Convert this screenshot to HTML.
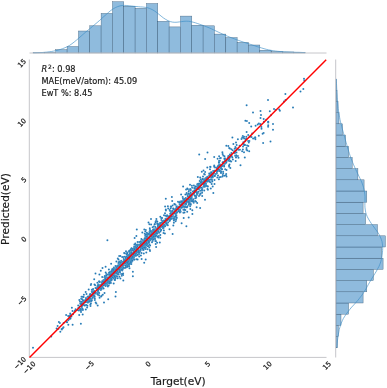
<!DOCTYPE html>
<html lang="en"><head><meta charset="utf-8"><title>Parity plot</title>
<style>html,body{margin:0;padding:0;background:#fff}body{width:387px;height:388px;overflow:hidden}</style>
</head><body>
<svg width="387" height="388" viewBox="0 0 387 388" style="display:block">
<rect width="387" height="388" fill="#fff"/>
<g fill="#8fbbdd" stroke="#1d3f5e" stroke-opacity="0.75" stroke-width="0.42">
<rect x="33.10" y="52.70" width="11.34" height="0.30"/>
<rect x="44.44" y="52.50" width="11.34" height="0.50"/>
<rect x="55.77" y="49.60" width="11.34" height="3.40"/>
<rect x="67.11" y="46.50" width="11.34" height="6.50"/>
<rect x="78.44" y="31.00" width="11.34" height="22.00"/>
<rect x="89.78" y="25.80" width="11.34" height="27.20"/>
<rect x="101.11" y="13.40" width="11.34" height="39.60"/>
<rect x="112.44" y="1.70" width="11.34" height="51.30"/>
<rect x="123.78" y="6.20" width="11.34" height="46.80"/>
<rect x="135.12" y="8.30" width="11.34" height="44.70"/>
<rect x="146.45" y="3.50" width="11.34" height="49.50"/>
<rect x="157.78" y="21.30" width="11.34" height="31.70"/>
<rect x="169.12" y="26.90" width="11.34" height="26.10"/>
<rect x="180.46" y="16.10" width="11.34" height="36.90"/>
<rect x="191.79" y="25.20" width="11.34" height="27.80"/>
<rect x="203.12" y="25.80" width="11.34" height="27.20"/>
<rect x="214.46" y="34.10" width="11.34" height="18.90"/>
<rect x="225.80" y="37.60" width="11.34" height="15.40"/>
<rect x="237.13" y="42.40" width="11.34" height="10.60"/>
<rect x="248.47" y="45.00" width="11.34" height="8.00"/>
<rect x="259.80" y="50.20" width="11.34" height="2.80"/>
<rect x="271.14" y="51.60" width="11.34" height="1.40"/>
<rect x="282.47" y="52.00" width="11.34" height="1.00"/>
<rect x="293.81" y="52.30" width="11.34" height="0.70"/>
<rect x="336.00" y="336.60" width="1.30" height="11.20"/>
<rect x="336.00" y="325.40" width="2.30" height="11.20"/>
<rect x="336.00" y="314.20" width="5.00" height="11.20"/>
<rect x="336.00" y="303.00" width="12.60" height="11.20"/>
<rect x="336.00" y="291.80" width="27.10" height="11.20"/>
<rect x="336.00" y="280.60" width="30.80" height="11.20"/>
<rect x="336.00" y="269.40" width="37.40" height="11.20"/>
<rect x="336.00" y="258.20" width="47.10" height="11.20"/>
<rect x="336.00" y="247.00" width="45.60" height="11.20"/>
<rect x="336.00" y="235.80" width="49.40" height="11.20"/>
<rect x="336.00" y="224.60" width="41.50" height="11.20"/>
<rect x="336.00" y="213.40" width="29.60" height="11.20"/>
<rect x="336.00" y="202.20" width="27.10" height="11.20"/>
<rect x="336.00" y="191.00" width="30.80" height="11.20"/>
<rect x="336.00" y="179.80" width="28.10" height="11.20"/>
<rect x="336.00" y="168.60" width="21.90" height="11.20"/>
<rect x="336.00" y="157.40" width="16.20" height="11.20"/>
<rect x="336.00" y="146.20" width="12.60" height="11.20"/>
<rect x="336.00" y="135.00" width="9.60" height="11.20"/>
<rect x="336.00" y="123.80" width="6.50" height="11.20"/>
<rect x="336.00" y="112.60" width="3.00" height="11.20"/>
<rect x="336.00" y="101.40" width="2.00" height="11.20"/>
<rect x="336.00" y="90.20" width="1.00" height="11.20"/>
<rect x="336.00" y="79.00" width="0.50" height="11.20"/>
</g>
<path d="M33.1,52.8 L35.4,52.8 L37.7,52.7 L40.0,52.6 L42.2,52.5 L44.5,52.3 L46.8,52.1 L49.1,51.8 L51.4,51.5 L53.7,51.1 L56.0,50.6 L58.2,50.1 L60.5,49.4 L62.8,48.6 L65.1,47.7 L67.4,46.6 L69.7,45.3 L72.0,43.7 L74.2,42.0 L76.5,40.1 L78.8,38.1 L81.1,36.1 L83.4,34.1 L85.7,32.1 L88.0,30.2 L90.3,28.3 L92.5,26.4 L94.8,24.5 L97.1,22.6 L99.4,20.6 L101.7,18.5 L104.0,16.4 L106.3,14.4 L108.5,12.4 L110.8,10.5 L113.1,8.9 L115.4,7.6 L117.7,6.6 L120.0,5.9 L122.3,5.5 L124.5,5.4 L126.8,5.5 L129.1,5.8 L131.4,6.0 L133.7,6.3 L136.0,6.5 L138.3,6.7 L140.5,6.9 L142.8,7.0 L145.1,7.3 L147.4,7.7 L149.7,8.5 L152.0,9.5 L154.3,10.8 L156.5,12.4 L158.8,14.2 L161.1,16.1 L163.4,17.9 L165.7,19.4 L168.0,20.7 L170.3,21.6 L172.5,22.1 L174.8,22.3 L177.1,22.2 L179.4,21.9 L181.7,21.6 L184.0,21.3 L186.3,21.2 L188.6,21.3 L190.8,21.6 L193.1,22.2 L195.4,22.8 L197.7,23.6 L200.0,24.4 L202.3,25.2 L204.6,26.0 L206.8,26.9 L209.1,27.8 L211.4,28.8 L213.7,29.9 L216.0,31.0 L218.3,32.1 L220.6,33.2 L222.8,34.2 L225.1,35.2 L227.4,36.2 L229.7,37.1 L232.0,38.0 L234.3,38.8 L236.6,39.7 L238.8,40.5 L241.1,41.3 L243.4,42.1 L245.7,42.8 L248.0,43.6 L250.3,44.3 L252.6,45.1 L254.8,45.8 L257.1,46.6 L259.4,47.3 L261.7,48.0 L264.0,48.7 L266.3,49.3 L268.6,49.9 L270.8,50.3 L273.1,50.7 L275.4,51.0 L277.7,51.3 L280.0,51.5 L282.3,51.6 L284.6,51.8 L286.9,51.9 L289.1,52.0 L291.4,52.1 L293.7,52.2 L296.0,52.3 L298.3,52.3 L300.6,52.4 L302.9,52.5 L305.1,52.6" fill="none" stroke="#3a8cc6" stroke-width="0.7" stroke-opacity="0.9"/>
<path d="M336.3,79.0 L336.4,81.3 L336.5,83.5 L336.6,85.8 L336.7,88.0 L336.8,90.3 L336.9,92.6 L337.1,94.8 L337.2,97.1 L337.4,99.3 L337.6,101.6 L337.8,103.8 L338.0,106.1 L338.2,108.4 L338.5,110.6 L338.8,112.9 L339.2,115.1 L339.6,117.4 L340.0,119.7 L340.5,121.9 L341.1,124.2 L341.7,126.4 L342.3,128.7 L342.9,131.0 L343.5,133.2 L344.1,135.5 L344.8,137.7 L345.4,140.0 L346.0,142.2 L346.7,144.5 L347.3,146.8 L348.0,149.0 L348.7,151.3 L349.4,153.5 L350.1,155.8 L350.9,158.1 L351.8,160.3 L352.7,162.6 L353.6,164.8 L354.6,167.1 L355.7,169.4 L356.7,171.6 L357.8,173.9 L358.9,176.1 L360.0,178.4 L361.0,180.6 L362.0,182.9 L362.8,185.2 L363.5,187.4 L364.1,189.7 L364.5,191.9 L364.8,194.2 L365.0,196.5 L365.0,198.7 L365.0,201.0 L364.9,203.2 L364.9,205.5 L365.0,207.8 L365.3,210.0 L365.7,212.3 L366.4,214.5 L367.3,216.8 L368.5,219.0 L369.9,221.3 L371.4,223.6 L373.0,225.8 L374.7,228.1 L376.3,230.3 L377.9,232.6 L379.3,234.9 L380.4,237.1 L381.3,239.4 L382.0,241.6 L382.4,243.9 L382.6,246.2 L382.7,248.4 L382.6,250.7 L382.4,252.9 L382.1,255.2 L381.8,257.4 L381.3,259.7 L380.7,262.0 L379.9,264.2 L378.9,266.5 L377.7,268.7 L376.5,271.0 L375.1,273.3 L373.7,275.5 L372.3,277.8 L371.0,280.0 L369.6,282.3 L368.3,284.6 L367.1,286.8 L365.8,289.1 L364.4,291.3 L363.0,293.6 L361.4,295.8 L359.6,298.1 L357.8,300.4 L355.8,302.6 L353.8,304.9 L351.7,307.1 L349.8,309.4 L348.0,311.7 L346.3,313.9 L344.8,316.2 L343.4,318.4 L342.3,320.7 L341.3,323.0 L340.5,325.2 L339.8,327.5 L339.2,329.7 L338.8,332.0 L338.4,334.2 L338.0,336.5 L337.7,338.8 L337.4,341.0 L337.2,343.3 L337.0,345.5 L336.8,347.8" fill="none" stroke="#3a8cc6" stroke-width="0.7" stroke-opacity="0.9"/>
<g stroke="#c6c6ca" stroke-width="1" fill="none">
<path d="M29.3,59.5 V357.4 H326.5"/>
<path d="M29.5,53.0 H326.5"/>
<path d="M335.7,59.5 V357.5"/>
</g>
<g fill="#1f77b4" stroke="#fff" stroke-width="0.1">
<circle cx="162.1" cy="223.1" r="1.0"/>
<circle cx="223.0" cy="165.6" r="1.0"/>
<circle cx="199.0" cy="196.0" r="1.0"/>
<circle cx="116.2" cy="267.6" r="1.0"/>
<circle cx="118.5" cy="272.6" r="1.0"/>
<circle cx="210.0" cy="169.3" r="1.0"/>
<circle cx="61.9" cy="329.6" r="1.0"/>
<circle cx="193.0" cy="200.4" r="1.0"/>
<circle cx="203.0" cy="179.3" r="1.0"/>
<circle cx="146.1" cy="239.6" r="1.0"/>
<circle cx="124.2" cy="261.4" r="1.0"/>
<circle cx="123.1" cy="267.6" r="1.0"/>
<circle cx="118.5" cy="263.3" r="1.0"/>
<circle cx="136.5" cy="259.2" r="1.0"/>
<circle cx="155.8" cy="232.7" r="1.0"/>
<circle cx="151.4" cy="238.1" r="1.0"/>
<circle cx="279.2" cy="109.5" r="1.0"/>
<circle cx="201.2" cy="182.8" r="1.0"/>
<circle cx="163.9" cy="225.1" r="1.0"/>
<circle cx="260.4" cy="124.2" r="1.0"/>
<circle cx="121.8" cy="263.1" r="1.0"/>
<circle cx="109.0" cy="283.2" r="1.0"/>
<circle cx="168.1" cy="222.6" r="1.0"/>
<circle cx="81.5" cy="306.6" r="1.0"/>
<circle cx="87.3" cy="301.4" r="1.0"/>
<circle cx="156.3" cy="228.8" r="1.0"/>
<circle cx="139.1" cy="253.9" r="1.0"/>
<circle cx="219.1" cy="156.3" r="1.0"/>
<circle cx="161.6" cy="223.1" r="1.0"/>
<circle cx="146.5" cy="242.7" r="1.0"/>
<circle cx="149.1" cy="242.3" r="1.0"/>
<circle cx="116.2" cy="270.8" r="1.0"/>
<circle cx="68.3" cy="320.2" r="1.0"/>
<circle cx="109.8" cy="273.9" r="1.0"/>
<circle cx="174.0" cy="213.3" r="1.0"/>
<circle cx="118.9" cy="263.8" r="1.0"/>
<circle cx="127.0" cy="262.6" r="1.0"/>
<circle cx="59.9" cy="323.0" r="1.0"/>
<circle cx="211.7" cy="183.9" r="1.0"/>
<circle cx="106.4" cy="283.6" r="1.0"/>
<circle cx="119.2" cy="266.3" r="1.0"/>
<circle cx="207.9" cy="189.7" r="1.0"/>
<circle cx="152.8" cy="231.9" r="1.0"/>
<circle cx="213.3" cy="192.9" r="1.0"/>
<circle cx="160.8" cy="225.9" r="1.0"/>
<circle cx="186.3" cy="203.8" r="1.0"/>
<circle cx="97.6" cy="292.0" r="1.0"/>
<circle cx="147.4" cy="239.0" r="1.0"/>
<circle cx="157.4" cy="230.3" r="1.0"/>
<circle cx="208.8" cy="179.6" r="1.0"/>
<circle cx="126.6" cy="253.8" r="1.0"/>
<circle cx="166.4" cy="220.6" r="1.0"/>
<circle cx="87.7" cy="302.2" r="1.0"/>
<circle cx="130.9" cy="250.5" r="1.0"/>
<circle cx="134.2" cy="247.9" r="1.0"/>
<circle cx="102.1" cy="281.2" r="1.0"/>
<circle cx="197.8" cy="177.1" r="1.0"/>
<circle cx="132.2" cy="260.4" r="1.0"/>
<circle cx="258.9" cy="123.6" r="1.0"/>
<circle cx="165.1" cy="206.5" r="1.0"/>
<circle cx="164.6" cy="222.4" r="1.0"/>
<circle cx="162.2" cy="223.3" r="1.0"/>
<circle cx="175.6" cy="221.2" r="1.0"/>
<circle cx="107.4" cy="281.3" r="1.0"/>
<circle cx="145.4" cy="236.0" r="1.0"/>
<circle cx="121.8" cy="275.7" r="1.0"/>
<circle cx="143.5" cy="245.2" r="1.0"/>
<circle cx="100.2" cy="285.1" r="1.0"/>
<circle cx="237.9" cy="139.3" r="1.0"/>
<circle cx="121.2" cy="260.8" r="1.0"/>
<circle cx="174.4" cy="218.4" r="1.0"/>
<circle cx="121.0" cy="265.8" r="1.0"/>
<circle cx="206.5" cy="177.4" r="1.0"/>
<circle cx="174.4" cy="216.9" r="1.0"/>
<circle cx="110.5" cy="276.7" r="1.0"/>
<circle cx="203.5" cy="170.4" r="1.0"/>
<circle cx="229.1" cy="148.0" r="1.0"/>
<circle cx="220.0" cy="158.3" r="1.0"/>
<circle cx="156.1" cy="246.9" r="1.0"/>
<circle cx="104.2" cy="283.2" r="1.0"/>
<circle cx="110.4" cy="274.3" r="1.0"/>
<circle cx="228.6" cy="160.8" r="1.0"/>
<circle cx="149.9" cy="237.3" r="1.0"/>
<circle cx="107.4" cy="240.2" r="1.0"/>
<circle cx="221.9" cy="166.0" r="1.0"/>
<circle cx="167.8" cy="225.2" r="1.0"/>
<circle cx="156.4" cy="229.1" r="1.0"/>
<circle cx="126.6" cy="262.3" r="1.0"/>
<circle cx="143.6" cy="245.3" r="1.0"/>
<circle cx="119.6" cy="268.5" r="1.0"/>
<circle cx="82.8" cy="301.9" r="1.0"/>
<circle cx="211.9" cy="174.2" r="1.0"/>
<circle cx="145.3" cy="245.5" r="1.0"/>
<circle cx="151.9" cy="235.9" r="1.0"/>
<circle cx="134.2" cy="251.4" r="1.0"/>
<circle cx="181.9" cy="206.7" r="1.0"/>
<circle cx="80.3" cy="303.3" r="1.0"/>
<circle cx="132.4" cy="249.9" r="1.0"/>
<circle cx="81.9" cy="308.0" r="1.0"/>
<circle cx="107.7" cy="277.4" r="1.0"/>
<circle cx="242.8" cy="136.1" r="1.0"/>
<circle cx="170.8" cy="206.6" r="1.0"/>
<circle cx="143.7" cy="243.7" r="1.0"/>
<circle cx="154.9" cy="229.3" r="1.0"/>
<circle cx="204.8" cy="184.7" r="1.0"/>
<circle cx="126.7" cy="264.7" r="1.0"/>
<circle cx="166.9" cy="218.4" r="1.0"/>
<circle cx="179.5" cy="206.7" r="1.0"/>
<circle cx="133.6" cy="251.8" r="1.0"/>
<circle cx="152.1" cy="234.9" r="1.0"/>
<circle cx="184.6" cy="201.3" r="1.0"/>
<circle cx="219.5" cy="169.4" r="1.0"/>
<circle cx="103.1" cy="281.2" r="1.0"/>
<circle cx="231.4" cy="149.3" r="1.0"/>
<circle cx="58.4" cy="328.8" r="1.0"/>
<circle cx="182.3" cy="202.0" r="1.0"/>
<circle cx="196.1" cy="197.1" r="1.0"/>
<circle cx="101.8" cy="287.5" r="1.0"/>
<circle cx="140.4" cy="242.0" r="1.0"/>
<circle cx="199.7" cy="181.0" r="1.0"/>
<circle cx="74.5" cy="311.8" r="1.0"/>
<circle cx="168.8" cy="218.8" r="1.0"/>
<circle cx="201.8" cy="189.7" r="1.0"/>
<circle cx="153.6" cy="231.2" r="1.0"/>
<circle cx="190.6" cy="193.7" r="1.0"/>
<circle cx="117.5" cy="274.0" r="1.0"/>
<circle cx="110.2" cy="275.1" r="1.0"/>
<circle cx="127.0" cy="258.5" r="1.0"/>
<circle cx="107.1" cy="278.6" r="1.0"/>
<circle cx="134.9" cy="255.6" r="1.0"/>
<circle cx="232.6" cy="150.3" r="1.0"/>
<circle cx="152.2" cy="239.5" r="1.0"/>
<circle cx="132.7" cy="249.7" r="1.0"/>
<circle cx="116.0" cy="270.6" r="1.0"/>
<circle cx="246.5" cy="149.7" r="1.0"/>
<circle cx="135.3" cy="243.6" r="1.0"/>
<circle cx="251.2" cy="126.5" r="1.0"/>
<circle cx="148.5" cy="240.6" r="1.0"/>
<circle cx="149.4" cy="224.3" r="1.0"/>
<circle cx="225.2" cy="169.3" r="1.0"/>
<circle cx="180.7" cy="205.2" r="1.0"/>
<circle cx="149.8" cy="230.0" r="1.0"/>
<circle cx="141.6" cy="259.0" r="1.0"/>
<circle cx="211.1" cy="172.2" r="1.0"/>
<circle cx="143.9" cy="243.3" r="1.0"/>
<circle cx="230.1" cy="157.0" r="1.0"/>
<circle cx="92.3" cy="297.9" r="1.0"/>
<circle cx="144.8" cy="241.2" r="1.0"/>
<circle cx="147.8" cy="242.7" r="1.0"/>
<circle cx="226.5" cy="176.4" r="1.0"/>
<circle cx="115.1" cy="273.3" r="1.0"/>
<circle cx="197.4" cy="194.0" r="1.0"/>
<circle cx="179.8" cy="202.0" r="1.0"/>
<circle cx="188.7" cy="217.6" r="1.0"/>
<circle cx="164.2" cy="225.2" r="1.0"/>
<circle cx="243.0" cy="146.5" r="1.0"/>
<circle cx="131.6" cy="255.3" r="1.0"/>
<circle cx="142.2" cy="240.0" r="1.0"/>
<circle cx="116.3" cy="268.2" r="1.0"/>
<circle cx="79.5" cy="309.2" r="1.0"/>
<circle cx="114.7" cy="273.4" r="1.0"/>
<circle cx="223.3" cy="163.4" r="1.0"/>
<circle cx="210.3" cy="173.6" r="1.0"/>
<circle cx="98.8" cy="286.1" r="1.0"/>
<circle cx="158.3" cy="230.4" r="1.0"/>
<circle cx="145.3" cy="248.1" r="1.0"/>
<circle cx="162.1" cy="218.0" r="1.0"/>
<circle cx="179.6" cy="204.2" r="1.0"/>
<circle cx="130.5" cy="255.7" r="1.0"/>
<circle cx="243.3" cy="142.3" r="1.0"/>
<circle cx="144.4" cy="245.8" r="1.0"/>
<circle cx="164.9" cy="225.3" r="1.0"/>
<circle cx="165.4" cy="222.6" r="1.0"/>
<circle cx="102.9" cy="285.4" r="1.0"/>
<circle cx="85.3" cy="305.3" r="1.0"/>
<circle cx="139.2" cy="256.6" r="1.0"/>
<circle cx="181.3" cy="206.7" r="1.0"/>
<circle cx="193.3" cy="191.7" r="1.0"/>
<circle cx="185.9" cy="202.8" r="1.0"/>
<circle cx="92.8" cy="294.1" r="1.0"/>
<circle cx="223.1" cy="171.8" r="1.0"/>
<circle cx="193.2" cy="194.5" r="1.0"/>
<circle cx="203.3" cy="184.2" r="1.0"/>
<circle cx="157.8" cy="236.7" r="1.0"/>
<circle cx="218.0" cy="175.5" r="1.0"/>
<circle cx="84.2" cy="300.4" r="1.0"/>
<circle cx="80.8" cy="310.8" r="1.0"/>
<circle cx="69.5" cy="316.1" r="1.0"/>
<circle cx="117.0" cy="272.5" r="1.0"/>
<circle cx="121.4" cy="263.7" r="1.0"/>
<circle cx="101.6" cy="286.5" r="1.0"/>
<circle cx="155.9" cy="235.8" r="1.0"/>
<circle cx="89.7" cy="297.6" r="1.0"/>
<circle cx="164.1" cy="224.9" r="1.0"/>
<circle cx="105.2" cy="279.8" r="1.0"/>
<circle cx="171.8" cy="216.7" r="1.0"/>
<circle cx="69.2" cy="319.0" r="1.0"/>
<circle cx="127.4" cy="254.5" r="1.0"/>
<circle cx="235.4" cy="146.9" r="1.0"/>
<circle cx="146.5" cy="238.1" r="1.0"/>
<circle cx="200.7" cy="179.2" r="1.0"/>
<circle cx="176.7" cy="207.4" r="1.0"/>
<circle cx="158.0" cy="224.3" r="1.0"/>
<circle cx="101.9" cy="282.5" r="1.0"/>
<circle cx="154.8" cy="230.9" r="1.0"/>
<circle cx="86.1" cy="300.7" r="1.0"/>
<circle cx="195.3" cy="189.5" r="1.0"/>
<circle cx="246.9" cy="121.0" r="1.0"/>
<circle cx="205.5" cy="181.4" r="1.0"/>
<circle cx="83.3" cy="305.1" r="1.0"/>
<circle cx="125.1" cy="263.0" r="1.0"/>
<circle cx="131.1" cy="256.0" r="1.0"/>
<circle cx="90.8" cy="294.8" r="1.0"/>
<circle cx="159.8" cy="242.4" r="1.0"/>
<circle cx="200.5" cy="193.6" r="1.0"/>
<circle cx="129.5" cy="256.6" r="1.0"/>
<circle cx="210.6" cy="182.3" r="1.0"/>
<circle cx="200.1" cy="185.1" r="1.0"/>
<circle cx="108.0" cy="278.6" r="1.0"/>
<circle cx="182.7" cy="196.9" r="1.0"/>
<circle cx="222.4" cy="152.3" r="1.0"/>
<circle cx="102.4" cy="283.5" r="1.0"/>
<circle cx="149.5" cy="240.9" r="1.0"/>
<circle cx="162.9" cy="227.9" r="1.0"/>
<circle cx="159.1" cy="232.8" r="1.0"/>
<circle cx="91.0" cy="295.9" r="1.0"/>
<circle cx="176.5" cy="217.3" r="1.0"/>
<circle cx="166.2" cy="220.6" r="1.0"/>
<circle cx="196.0" cy="191.1" r="1.0"/>
<circle cx="196.2" cy="188.5" r="1.0"/>
<circle cx="126.1" cy="261.9" r="1.0"/>
<circle cx="186.4" cy="200.3" r="1.0"/>
<circle cx="209.7" cy="180.0" r="1.0"/>
<circle cx="225.0" cy="163.8" r="1.0"/>
<circle cx="101.6" cy="295.7" r="1.0"/>
<circle cx="88.7" cy="296.7" r="1.0"/>
<circle cx="180.3" cy="201.5" r="1.0"/>
<circle cx="116.4" cy="269.7" r="1.0"/>
<circle cx="154.7" cy="230.1" r="1.0"/>
<circle cx="235.1" cy="155.8" r="1.0"/>
<circle cx="131.2" cy="251.4" r="1.0"/>
<circle cx="115.7" cy="275.8" r="1.0"/>
<circle cx="142.2" cy="242.3" r="1.0"/>
<circle cx="179.1" cy="207.6" r="1.0"/>
<circle cx="91.0" cy="301.5" r="1.0"/>
<circle cx="129.2" cy="251.7" r="1.0"/>
<circle cx="101.4" cy="285.5" r="1.0"/>
<circle cx="178.7" cy="207.7" r="1.0"/>
<circle cx="211.9" cy="173.4" r="1.0"/>
<circle cx="124.3" cy="262.8" r="1.0"/>
<circle cx="132.2" cy="255.9" r="1.0"/>
<circle cx="154.3" cy="229.9" r="1.0"/>
<circle cx="113.9" cy="278.3" r="1.0"/>
<circle cx="118.4" cy="268.4" r="1.0"/>
<circle cx="131.6" cy="257.5" r="1.0"/>
<circle cx="138.9" cy="252.7" r="1.0"/>
<circle cx="95.5" cy="293.5" r="1.0"/>
<circle cx="191.5" cy="198.8" r="1.0"/>
<circle cx="153.7" cy="233.1" r="1.0"/>
<circle cx="118.1" cy="265.2" r="1.0"/>
<circle cx="90.5" cy="306.1" r="1.0"/>
<circle cx="181.8" cy="204.3" r="1.0"/>
<circle cx="110.8" cy="283.0" r="1.0"/>
<circle cx="109.5" cy="283.6" r="1.0"/>
<circle cx="110.6" cy="279.4" r="1.0"/>
<circle cx="96.3" cy="303.6" r="1.0"/>
<circle cx="221.0" cy="173.1" r="1.0"/>
<circle cx="118.5" cy="268.1" r="1.0"/>
<circle cx="132.1" cy="254.6" r="1.0"/>
<circle cx="206.9" cy="180.9" r="1.0"/>
<circle cx="163.4" cy="228.5" r="1.0"/>
<circle cx="106.4" cy="274.1" r="1.0"/>
<circle cx="142.6" cy="244.9" r="1.0"/>
<circle cx="216.9" cy="173.3" r="1.0"/>
<circle cx="124.1" cy="253.0" r="1.0"/>
<circle cx="181.5" cy="201.6" r="1.0"/>
<circle cx="91.8" cy="299.9" r="1.0"/>
<circle cx="190.2" cy="188.9" r="1.0"/>
<circle cx="199.9" cy="186.5" r="1.0"/>
<circle cx="200.3" cy="184.4" r="1.0"/>
<circle cx="174.2" cy="211.4" r="1.0"/>
<circle cx="124.9" cy="268.1" r="1.0"/>
<circle cx="83.7" cy="300.4" r="1.0"/>
<circle cx="156.2" cy="230.3" r="1.0"/>
<circle cx="186.2" cy="204.2" r="1.0"/>
<circle cx="108.3" cy="281.0" r="1.0"/>
<circle cx="116.7" cy="267.4" r="1.0"/>
<circle cx="148.2" cy="240.0" r="1.0"/>
<circle cx="187.6" cy="199.3" r="1.0"/>
<circle cx="220.0" cy="164.5" r="1.0"/>
<circle cx="105.0" cy="281.2" r="1.0"/>
<circle cx="104.0" cy="302.4" r="1.0"/>
<circle cx="199.7" cy="185.1" r="1.0"/>
<circle cx="161.4" cy="219.9" r="1.0"/>
<circle cx="187.0" cy="194.3" r="1.0"/>
<circle cx="285.4" cy="94.1" r="1.0"/>
<circle cx="234.3" cy="151.2" r="1.0"/>
<circle cx="207.4" cy="176.8" r="1.0"/>
<circle cx="197.2" cy="184.2" r="1.0"/>
<circle cx="145.6" cy="242.3" r="1.0"/>
<circle cx="165.9" cy="210.4" r="1.0"/>
<circle cx="109.5" cy="272.3" r="1.0"/>
<circle cx="184.3" cy="200.1" r="1.0"/>
<circle cx="190.0" cy="184.8" r="1.0"/>
<circle cx="184.8" cy="199.3" r="1.0"/>
<circle cx="146.3" cy="252.4" r="1.0"/>
<circle cx="133.9" cy="249.5" r="1.0"/>
<circle cx="142.6" cy="243.4" r="1.0"/>
<circle cx="87.9" cy="296.8" r="1.0"/>
<circle cx="209.3" cy="177.1" r="1.0"/>
<circle cx="154.8" cy="224.0" r="1.0"/>
<circle cx="125.2" cy="260.1" r="1.0"/>
<circle cx="157.7" cy="231.6" r="1.0"/>
<circle cx="189.5" cy="194.3" r="1.0"/>
<circle cx="125.4" cy="259.4" r="1.0"/>
<circle cx="205.9" cy="186.2" r="1.0"/>
<circle cx="221.0" cy="167.7" r="1.0"/>
<circle cx="132.4" cy="255.8" r="1.0"/>
<circle cx="102.8" cy="287.7" r="1.0"/>
<circle cx="191.3" cy="194.4" r="1.0"/>
<circle cx="263.7" cy="118.9" r="1.0"/>
<circle cx="112.4" cy="268.9" r="1.0"/>
<circle cx="189.0" cy="190.1" r="1.0"/>
<circle cx="197.3" cy="186.1" r="1.0"/>
<circle cx="229.9" cy="148.5" r="1.0"/>
<circle cx="102.2" cy="277.1" r="1.0"/>
<circle cx="90.8" cy="298.4" r="1.0"/>
<circle cx="255.6" cy="125.7" r="1.0"/>
<circle cx="98.5" cy="284.4" r="1.0"/>
<circle cx="111.4" cy="276.0" r="1.0"/>
<circle cx="150.6" cy="239.2" r="1.0"/>
<circle cx="145.7" cy="244.3" r="1.0"/>
<circle cx="183.8" cy="204.1" r="1.0"/>
<circle cx="111.8" cy="279.0" r="1.0"/>
<circle cx="224.9" cy="160.1" r="1.0"/>
<circle cx="114.2" cy="272.9" r="1.0"/>
<circle cx="190.2" cy="196.1" r="1.0"/>
<circle cx="97.8" cy="287.3" r="1.0"/>
<circle cx="143.1" cy="241.7" r="1.0"/>
<circle cx="88.0" cy="302.4" r="1.0"/>
<circle cx="129.9" cy="257.8" r="1.0"/>
<circle cx="129.5" cy="262.4" r="1.0"/>
<circle cx="184.6" cy="209.9" r="1.0"/>
<circle cx="144.9" cy="248.2" r="1.0"/>
<circle cx="88.7" cy="289.6" r="1.0"/>
<circle cx="273.0" cy="129.7" r="1.0"/>
<circle cx="223.2" cy="162.0" r="1.0"/>
<circle cx="217.6" cy="158.7" r="1.0"/>
<circle cx="114.5" cy="275.2" r="1.0"/>
<circle cx="126.0" cy="251.3" r="1.0"/>
<circle cx="118.9" cy="262.4" r="1.0"/>
<circle cx="104.3" cy="279.9" r="1.0"/>
<circle cx="81.2" cy="298.8" r="1.0"/>
<circle cx="147.6" cy="235.7" r="1.0"/>
<circle cx="104.8" cy="284.4" r="1.0"/>
<circle cx="109.9" cy="275.5" r="1.0"/>
<circle cx="203.4" cy="186.7" r="1.0"/>
<circle cx="140.6" cy="250.5" r="1.0"/>
<circle cx="107.9" cy="286.5" r="1.0"/>
<circle cx="169.7" cy="209.9" r="1.0"/>
<circle cx="115.8" cy="272.9" r="1.0"/>
<circle cx="156.7" cy="230.3" r="1.0"/>
<circle cx="123.7" cy="265.3" r="1.0"/>
<circle cx="156.1" cy="230.5" r="1.0"/>
<circle cx="159.7" cy="228.0" r="1.0"/>
<circle cx="155.1" cy="234.3" r="1.0"/>
<circle cx="140.2" cy="250.5" r="1.0"/>
<circle cx="193.7" cy="202.7" r="1.0"/>
<circle cx="208.6" cy="181.1" r="1.0"/>
<circle cx="111.6" cy="274.5" r="1.0"/>
<circle cx="111.1" cy="263.8" r="1.0"/>
<circle cx="94.2" cy="279.3" r="1.0"/>
<circle cx="249.2" cy="123.1" r="1.0"/>
<circle cx="236.0" cy="142.5" r="1.0"/>
<circle cx="123.6" cy="263.6" r="1.0"/>
<circle cx="242.9" cy="149.4" r="1.0"/>
<circle cx="115.0" cy="271.9" r="1.0"/>
<circle cx="152.6" cy="241.1" r="1.0"/>
<circle cx="154.3" cy="234.4" r="1.0"/>
<circle cx="219.9" cy="160.8" r="1.0"/>
<circle cx="82.4" cy="303.5" r="1.0"/>
<circle cx="126.6" cy="253.6" r="1.0"/>
<circle cx="161.1" cy="227.0" r="1.0"/>
<circle cx="90.3" cy="304.4" r="1.0"/>
<circle cx="115.3" cy="273.1" r="1.0"/>
<circle cx="145.9" cy="242.3" r="1.0"/>
<circle cx="203.2" cy="179.4" r="1.0"/>
<circle cx="188.7" cy="191.5" r="1.0"/>
<circle cx="212.1" cy="180.1" r="1.0"/>
<circle cx="185.0" cy="203.1" r="1.0"/>
<circle cx="187.2" cy="200.2" r="1.0"/>
<circle cx="205.6" cy="183.6" r="1.0"/>
<circle cx="176.7" cy="218.0" r="1.0"/>
<circle cx="188.5" cy="198.1" r="1.0"/>
<circle cx="132.1" cy="253.7" r="1.0"/>
<circle cx="106.7" cy="279.1" r="1.0"/>
<circle cx="191.5" cy="199.6" r="1.0"/>
<circle cx="110.9" cy="276.3" r="1.0"/>
<circle cx="220.9" cy="172.6" r="1.0"/>
<circle cx="165.5" cy="215.7" r="1.0"/>
<circle cx="126.9" cy="263.2" r="1.0"/>
<circle cx="236.5" cy="152.4" r="1.0"/>
<circle cx="108.4" cy="281.0" r="1.0"/>
<circle cx="156.6" cy="232.2" r="1.0"/>
<circle cx="93.0" cy="297.0" r="1.0"/>
<circle cx="248.3" cy="146.0" r="1.0"/>
<circle cx="147.6" cy="233.8" r="1.0"/>
<circle cx="197.8" cy="188.2" r="1.0"/>
<circle cx="113.7" cy="271.6" r="1.0"/>
<circle cx="193.9" cy="185.6" r="1.0"/>
<circle cx="189.1" cy="198.1" r="1.0"/>
<circle cx="158.5" cy="224.9" r="1.0"/>
<circle cx="230.1" cy="156.7" r="1.0"/>
<circle cx="137.3" cy="245.9" r="1.0"/>
<circle cx="144.8" cy="240.6" r="1.0"/>
<circle cx="170.1" cy="215.8" r="1.0"/>
<circle cx="206.9" cy="181.6" r="1.0"/>
<circle cx="133.5" cy="252.5" r="1.0"/>
<circle cx="176.9" cy="206.2" r="1.0"/>
<circle cx="120.4" cy="278.6" r="1.0"/>
<circle cx="157.7" cy="229.6" r="1.0"/>
<circle cx="180.7" cy="211.7" r="1.0"/>
<circle cx="86.0" cy="301.8" r="1.0"/>
<circle cx="188.9" cy="204.8" r="1.0"/>
<circle cx="75.6" cy="309.2" r="1.0"/>
<circle cx="245.2" cy="145.1" r="1.0"/>
<circle cx="135.9" cy="252.2" r="1.0"/>
<circle cx="136.1" cy="252.4" r="1.0"/>
<circle cx="189.2" cy="203.4" r="1.0"/>
<circle cx="153.4" cy="236.1" r="1.0"/>
<circle cx="183.4" cy="209.7" r="1.0"/>
<circle cx="89.9" cy="299.8" r="1.0"/>
<circle cx="152.5" cy="235.4" r="1.0"/>
<circle cx="147.5" cy="239.4" r="1.0"/>
<circle cx="234.3" cy="152.4" r="1.0"/>
<circle cx="82.3" cy="305.3" r="1.0"/>
<circle cx="144.3" cy="229.6" r="1.0"/>
<circle cx="158.9" cy="225.3" r="1.0"/>
<circle cx="152.0" cy="242.2" r="1.0"/>
<circle cx="90.9" cy="303.4" r="1.0"/>
<circle cx="166.6" cy="224.2" r="1.0"/>
<circle cx="118.8" cy="268.6" r="1.0"/>
<circle cx="103.8" cy="284.9" r="1.0"/>
<circle cx="214.0" cy="176.0" r="1.0"/>
<circle cx="108.8" cy="273.1" r="1.0"/>
<circle cx="138.9" cy="247.8" r="1.0"/>
<circle cx="190.2" cy="198.9" r="1.0"/>
<circle cx="184.8" cy="203.7" r="1.0"/>
<circle cx="157.1" cy="231.0" r="1.0"/>
<circle cx="195.2" cy="186.8" r="1.0"/>
<circle cx="146.3" cy="239.1" r="1.0"/>
<circle cx="158.5" cy="224.8" r="1.0"/>
<circle cx="200.1" cy="208.0" r="1.0"/>
<circle cx="172.4" cy="213.4" r="1.0"/>
<circle cx="162.6" cy="220.9" r="1.0"/>
<circle cx="142.3" cy="232.6" r="1.0"/>
<circle cx="147.0" cy="239.8" r="1.0"/>
<circle cx="137.6" cy="259.4" r="1.0"/>
<circle cx="181.6" cy="203.3" r="1.0"/>
<circle cx="132.2" cy="256.6" r="1.0"/>
<circle cx="137.6" cy="254.9" r="1.0"/>
<circle cx="186.1" cy="202.9" r="1.0"/>
<circle cx="150.2" cy="230.2" r="1.0"/>
<circle cx="126.5" cy="256.7" r="1.0"/>
<circle cx="202.4" cy="181.9" r="1.0"/>
<circle cx="129.5" cy="263.5" r="1.0"/>
<circle cx="210.5" cy="167.1" r="1.0"/>
<circle cx="199.8" cy="195.0" r="1.0"/>
<circle cx="144.4" cy="242.8" r="1.0"/>
<circle cx="183.4" cy="212.7" r="1.0"/>
<circle cx="79.3" cy="300.0" r="1.0"/>
<circle cx="129.1" cy="255.1" r="1.0"/>
<circle cx="205.1" cy="178.6" r="1.0"/>
<circle cx="146.7" cy="239.5" r="1.0"/>
<circle cx="156.9" cy="230.2" r="1.0"/>
<circle cx="176.2" cy="210.1" r="1.0"/>
<circle cx="173.8" cy="219.2" r="1.0"/>
<circle cx="159.3" cy="224.4" r="1.0"/>
<circle cx="143.7" cy="240.3" r="1.0"/>
<circle cx="107.2" cy="280.9" r="1.0"/>
<circle cx="114.4" cy="272.4" r="1.0"/>
<circle cx="123.6" cy="262.4" r="1.0"/>
<circle cx="145.9" cy="236.0" r="1.0"/>
<circle cx="304.3" cy="80.4" r="1.0"/>
<circle cx="133.2" cy="253.6" r="1.0"/>
<circle cx="141.1" cy="248.7" r="1.0"/>
<circle cx="127.2" cy="264.3" r="1.0"/>
<circle cx="153.8" cy="236.5" r="1.0"/>
<circle cx="227.5" cy="159.0" r="1.0"/>
<circle cx="221.5" cy="166.4" r="1.0"/>
<circle cx="124.5" cy="261.8" r="1.0"/>
<circle cx="112.6" cy="272.0" r="1.0"/>
<circle cx="222.6" cy="162.6" r="1.0"/>
<circle cx="150.3" cy="235.7" r="1.0"/>
<circle cx="177.0" cy="207.7" r="1.0"/>
<circle cx="98.6" cy="287.7" r="1.0"/>
<circle cx="212.6" cy="174.3" r="1.0"/>
<circle cx="130.8" cy="254.6" r="1.0"/>
<circle cx="156.0" cy="241.2" r="1.0"/>
<circle cx="108.6" cy="274.5" r="1.0"/>
<circle cx="145.6" cy="248.9" r="1.0"/>
<circle cx="202.0" cy="181.9" r="1.0"/>
<circle cx="192.3" cy="194.5" r="1.0"/>
<circle cx="138.1" cy="245.2" r="1.0"/>
<circle cx="184.9" cy="201.6" r="1.0"/>
<circle cx="138.0" cy="251.8" r="1.0"/>
<circle cx="125.8" cy="257.8" r="1.0"/>
<circle cx="156.4" cy="229.9" r="1.0"/>
<circle cx="112.7" cy="273.3" r="1.0"/>
<circle cx="125.8" cy="260.8" r="1.0"/>
<circle cx="189.1" cy="194.3" r="1.0"/>
<circle cx="183.0" cy="198.4" r="1.0"/>
<circle cx="81.4" cy="304.0" r="1.0"/>
<circle cx="191.4" cy="200.8" r="1.0"/>
<circle cx="200.4" cy="187.8" r="1.0"/>
<circle cx="140.2" cy="246.3" r="1.0"/>
<circle cx="80.0" cy="301.6" r="1.0"/>
<circle cx="172.2" cy="213.4" r="1.0"/>
<circle cx="123.6" cy="264.0" r="1.0"/>
<circle cx="166.8" cy="216.2" r="1.0"/>
<circle cx="124.6" cy="263.2" r="1.0"/>
<circle cx="165.8" cy="221.1" r="1.0"/>
<circle cx="116.7" cy="269.7" r="1.0"/>
<circle cx="143.3" cy="248.3" r="1.0"/>
<circle cx="149.8" cy="234.0" r="1.0"/>
<circle cx="159.3" cy="224.8" r="1.0"/>
<circle cx="112.7" cy="275.7" r="1.0"/>
<circle cx="240.5" cy="165.2" r="1.0"/>
<circle cx="122.2" cy="264.0" r="1.0"/>
<circle cx="133.9" cy="248.6" r="1.0"/>
<circle cx="120.2" cy="270.3" r="1.0"/>
<circle cx="98.3" cy="294.5" r="1.0"/>
<circle cx="137.3" cy="248.2" r="1.0"/>
<circle cx="184.5" cy="212.5" r="1.0"/>
<circle cx="190.6" cy="203.8" r="1.0"/>
<circle cx="112.3" cy="277.0" r="1.0"/>
<circle cx="106.1" cy="282.8" r="1.0"/>
<circle cx="132.6" cy="255.7" r="1.0"/>
<circle cx="191.0" cy="199.3" r="1.0"/>
<circle cx="157.8" cy="228.0" r="1.0"/>
<circle cx="229.1" cy="158.5" r="1.0"/>
<circle cx="176.5" cy="212.2" r="1.0"/>
<circle cx="162.2" cy="226.1" r="1.0"/>
<circle cx="185.7" cy="198.9" r="1.0"/>
<circle cx="185.7" cy="197.9" r="1.0"/>
<circle cx="126.9" cy="257.1" r="1.0"/>
<circle cx="112.7" cy="272.0" r="1.0"/>
<circle cx="143.8" cy="253.4" r="1.0"/>
<circle cx="154.3" cy="238.4" r="1.0"/>
<circle cx="110.6" cy="277.1" r="1.0"/>
<circle cx="136.9" cy="246.7" r="1.0"/>
<circle cx="160.5" cy="231.5" r="1.0"/>
<circle cx="107.9" cy="274.7" r="1.0"/>
<circle cx="111.7" cy="270.6" r="1.0"/>
<circle cx="106.5" cy="282.2" r="1.0"/>
<circle cx="114.7" cy="271.6" r="1.0"/>
<circle cx="243.9" cy="144.3" r="1.0"/>
<circle cx="89.3" cy="301.7" r="1.0"/>
<circle cx="110.9" cy="274.3" r="1.0"/>
<circle cx="111.3" cy="276.9" r="1.0"/>
<circle cx="139.8" cy="251.5" r="1.0"/>
<circle cx="70.1" cy="318.6" r="1.0"/>
<circle cx="145.0" cy="242.3" r="1.0"/>
<circle cx="110.0" cy="280.0" r="1.0"/>
<circle cx="122.1" cy="257.1" r="1.0"/>
<circle cx="196.2" cy="197.7" r="1.0"/>
<circle cx="104.4" cy="277.2" r="1.0"/>
<circle cx="160.5" cy="223.4" r="1.0"/>
<circle cx="145.0" cy="244.8" r="1.0"/>
<circle cx="145.5" cy="240.9" r="1.0"/>
<circle cx="196.0" cy="186.7" r="1.0"/>
<circle cx="111.0" cy="276.4" r="1.0"/>
<circle cx="230.1" cy="161.3" r="1.0"/>
<circle cx="219.5" cy="166.2" r="1.0"/>
<circle cx="175.5" cy="204.7" r="1.0"/>
<circle cx="80.9" cy="323.8" r="1.0"/>
<circle cx="172.2" cy="212.9" r="1.0"/>
<circle cx="160.8" cy="226.0" r="1.0"/>
<circle cx="183.4" cy="203.8" r="1.0"/>
<circle cx="118.3" cy="269.7" r="1.0"/>
<circle cx="238.3" cy="149.8" r="1.0"/>
<circle cx="223.3" cy="155.5" r="1.0"/>
<circle cx="91.8" cy="291.4" r="1.0"/>
<circle cx="128.8" cy="261.1" r="1.0"/>
<circle cx="85.7" cy="292.0" r="1.0"/>
<circle cx="204.7" cy="186.8" r="1.0"/>
<circle cx="219.1" cy="165.1" r="1.0"/>
<circle cx="266.2" cy="119.7" r="1.0"/>
<circle cx="164.0" cy="215.2" r="1.0"/>
<circle cx="179.2" cy="206.4" r="1.0"/>
<circle cx="178.0" cy="201.8" r="1.0"/>
<circle cx="147.8" cy="239.0" r="1.0"/>
<circle cx="246.6" cy="132.1" r="1.0"/>
<circle cx="164.0" cy="221.7" r="1.0"/>
<circle cx="131.5" cy="248.7" r="1.0"/>
<circle cx="148.3" cy="242.5" r="1.0"/>
<circle cx="72.5" cy="310.9" r="1.0"/>
<circle cx="188.4" cy="196.8" r="1.0"/>
<circle cx="178.2" cy="207.3" r="1.0"/>
<circle cx="144.2" cy="244.3" r="1.0"/>
<circle cx="205.6" cy="179.5" r="1.0"/>
<circle cx="189.9" cy="201.9" r="1.0"/>
<circle cx="130.2" cy="260.8" r="1.0"/>
<circle cx="97.4" cy="287.3" r="1.0"/>
<circle cx="110.8" cy="280.7" r="1.0"/>
<circle cx="105.7" cy="272.5" r="1.0"/>
<circle cx="134.2" cy="254.0" r="1.0"/>
<circle cx="145.1" cy="239.9" r="1.0"/>
<circle cx="235.0" cy="151.5" r="1.0"/>
<circle cx="116.8" cy="268.7" r="1.0"/>
<circle cx="220.4" cy="168.1" r="1.0"/>
<circle cx="171.1" cy="217.7" r="1.0"/>
<circle cx="211.7" cy="175.6" r="1.0"/>
<circle cx="145.2" cy="238.3" r="1.0"/>
<circle cx="57.6" cy="325.9" r="1.0"/>
<circle cx="200.2" cy="177.5" r="1.0"/>
<circle cx="120.3" cy="265.3" r="1.0"/>
<circle cx="101.5" cy="285.9" r="1.0"/>
<circle cx="202.2" cy="195.9" r="1.0"/>
<circle cx="174.6" cy="210.1" r="1.0"/>
<circle cx="115.5" cy="266.1" r="1.0"/>
<circle cx="112.8" cy="275.2" r="1.0"/>
<circle cx="234.7" cy="148.8" r="1.0"/>
<circle cx="116.3" cy="266.6" r="1.0"/>
<circle cx="186.3" cy="199.6" r="1.0"/>
<circle cx="103.3" cy="280.3" r="1.0"/>
<circle cx="198.7" cy="185.7" r="1.0"/>
<circle cx="94.3" cy="297.7" r="1.0"/>
<circle cx="155.6" cy="233.8" r="1.0"/>
<circle cx="86.0" cy="302.0" r="1.0"/>
<circle cx="154.6" cy="230.4" r="1.0"/>
<circle cx="206.0" cy="183.9" r="1.0"/>
<circle cx="90.5" cy="298.6" r="1.0"/>
<circle cx="122.4" cy="267.3" r="1.0"/>
<circle cx="191.1" cy="195.7" r="1.0"/>
<circle cx="165.1" cy="221.5" r="1.0"/>
<circle cx="134.2" cy="246.5" r="1.0"/>
<circle cx="165.8" cy="209.4" r="1.0"/>
<circle cx="142.0" cy="244.3" r="1.0"/>
<circle cx="207.9" cy="178.0" r="1.0"/>
<circle cx="116.5" cy="269.4" r="1.0"/>
<circle cx="186.0" cy="199.8" r="1.0"/>
<circle cx="160.3" cy="216.7" r="1.0"/>
<circle cx="185.3" cy="209.9" r="1.0"/>
<circle cx="129.5" cy="258.1" r="1.0"/>
<circle cx="180.8" cy="204.9" r="1.0"/>
<circle cx="173.6" cy="209.5" r="1.0"/>
<circle cx="127.0" cy="266.0" r="1.0"/>
<circle cx="85.6" cy="300.1" r="1.0"/>
<circle cx="246.3" cy="136.8" r="1.0"/>
<circle cx="187.4" cy="200.8" r="1.0"/>
<circle cx="120.0" cy="272.6" r="1.0"/>
<circle cx="187.4" cy="200.6" r="1.0"/>
<circle cx="115.3" cy="278.2" r="1.0"/>
<circle cx="139.4" cy="245.3" r="1.0"/>
<circle cx="212.7" cy="186.5" r="1.0"/>
<circle cx="145.8" cy="229.9" r="1.0"/>
<circle cx="114.5" cy="269.7" r="1.0"/>
<circle cx="123.9" cy="267.4" r="1.0"/>
<circle cx="100.7" cy="287.6" r="1.0"/>
<circle cx="122.2" cy="267.9" r="1.0"/>
<circle cx="119.3" cy="266.2" r="1.0"/>
<circle cx="110.4" cy="271.9" r="1.0"/>
<circle cx="85.2" cy="302.2" r="1.0"/>
<circle cx="145.4" cy="235.6" r="1.0"/>
<circle cx="115.2" cy="276.9" r="1.0"/>
<circle cx="185.5" cy="199.0" r="1.0"/>
<circle cx="233.4" cy="144.1" r="1.0"/>
<circle cx="114.9" cy="279.9" r="1.0"/>
<circle cx="154.6" cy="224.5" r="1.0"/>
<circle cx="149.4" cy="233.6" r="1.0"/>
<circle cx="97.8" cy="294.6" r="1.0"/>
<circle cx="110.2" cy="280.9" r="1.0"/>
<circle cx="219.3" cy="171.1" r="1.0"/>
<circle cx="146.3" cy="234.3" r="1.0"/>
<circle cx="198.9" cy="189.3" r="1.0"/>
<circle cx="98.4" cy="288.9" r="1.0"/>
<circle cx="158.0" cy="226.5" r="1.0"/>
<circle cx="204.4" cy="181.2" r="1.0"/>
<circle cx="211.2" cy="174.7" r="1.0"/>
<circle cx="66.5" cy="321.9" r="1.0"/>
<circle cx="153.6" cy="229.6" r="1.0"/>
<circle cx="134.1" cy="257.1" r="1.0"/>
<circle cx="181.1" cy="194.6" r="1.0"/>
<circle cx="99.9" cy="288.6" r="1.0"/>
<circle cx="122.4" cy="268.9" r="1.0"/>
<circle cx="198.9" cy="185.5" r="1.0"/>
<circle cx="140.0" cy="245.4" r="1.0"/>
<circle cx="143.1" cy="249.9" r="1.0"/>
<circle cx="239.9" cy="145.9" r="1.0"/>
<circle cx="131.3" cy="259.6" r="1.0"/>
<circle cx="86.3" cy="305.0" r="1.0"/>
<circle cx="129.9" cy="254.4" r="1.0"/>
<circle cx="104.1" cy="285.3" r="1.0"/>
<circle cx="89.8" cy="294.7" r="1.0"/>
<circle cx="148.7" cy="240.2" r="1.0"/>
<circle cx="246.6" cy="105.3" r="1.0"/>
<circle cx="148.9" cy="238.2" r="1.0"/>
<circle cx="170.0" cy="220.6" r="1.0"/>
<circle cx="126.6" cy="266.5" r="1.0"/>
<circle cx="152.3" cy="237.3" r="1.0"/>
<circle cx="187.1" cy="198.6" r="1.0"/>
<circle cx="167.7" cy="219.1" r="1.0"/>
<circle cx="201.5" cy="181.8" r="1.0"/>
<circle cx="157.4" cy="228.1" r="1.0"/>
<circle cx="111.1" cy="274.7" r="1.0"/>
<circle cx="151.6" cy="233.1" r="1.0"/>
<circle cx="148.1" cy="239.1" r="1.0"/>
<circle cx="111.9" cy="273.0" r="1.0"/>
<circle cx="160.4" cy="223.9" r="1.0"/>
<circle cx="198.8" cy="185.1" r="1.0"/>
<circle cx="104.1" cy="284.3" r="1.0"/>
<circle cx="155.7" cy="236.7" r="1.0"/>
<circle cx="182.7" cy="206.8" r="1.0"/>
<circle cx="139.9" cy="246.0" r="1.0"/>
<circle cx="114.9" cy="279.4" r="1.0"/>
<circle cx="133.5" cy="254.7" r="1.0"/>
<circle cx="153.5" cy="231.9" r="1.0"/>
<circle cx="176.3" cy="217.7" r="1.0"/>
<circle cx="150.0" cy="251.1" r="1.0"/>
<circle cx="91.8" cy="289.8" r="1.0"/>
<circle cx="201.5" cy="180.3" r="1.0"/>
<circle cx="234.5" cy="153.3" r="1.0"/>
<circle cx="98.1" cy="284.8" r="1.0"/>
<circle cx="123.7" cy="259.1" r="1.0"/>
<circle cx="107.5" cy="282.8" r="1.0"/>
<circle cx="205.1" cy="171.9" r="1.0"/>
<circle cx="221.4" cy="169.0" r="1.0"/>
<circle cx="81.7" cy="306.5" r="1.0"/>
<circle cx="129.6" cy="260.6" r="1.0"/>
<circle cx="106.3" cy="279.9" r="1.0"/>
<circle cx="141.5" cy="253.1" r="1.0"/>
<circle cx="236.2" cy="150.6" r="1.0"/>
<circle cx="99.0" cy="281.5" r="1.0"/>
<circle cx="105.8" cy="277.7" r="1.0"/>
<circle cx="155.7" cy="231.9" r="1.0"/>
<circle cx="156.2" cy="221.0" r="1.0"/>
<circle cx="189.2" cy="200.7" r="1.0"/>
<circle cx="141.4" cy="242.4" r="1.0"/>
<circle cx="111.3" cy="276.4" r="1.0"/>
<circle cx="129.4" cy="256.8" r="1.0"/>
<circle cx="249.7" cy="136.7" r="1.0"/>
<circle cx="183.5" cy="202.9" r="1.0"/>
<circle cx="97.2" cy="289.8" r="1.0"/>
<circle cx="196.1" cy="201.8" r="1.0"/>
<circle cx="128.6" cy="260.0" r="1.0"/>
<circle cx="196.3" cy="188.9" r="1.0"/>
<circle cx="69.3" cy="318.4" r="1.0"/>
<circle cx="204.2" cy="190.6" r="1.0"/>
<circle cx="101.7" cy="289.1" r="1.0"/>
<circle cx="142.7" cy="246.3" r="1.0"/>
<circle cx="172.8" cy="214.3" r="1.0"/>
<circle cx="151.6" cy="234.7" r="1.0"/>
<circle cx="111.7" cy="274.9" r="1.0"/>
<circle cx="108.2" cy="280.6" r="1.0"/>
<circle cx="121.6" cy="265.2" r="1.0"/>
<circle cx="87.1" cy="307.5" r="1.0"/>
<circle cx="123.3" cy="280.5" r="1.0"/>
<circle cx="101.9" cy="285.3" r="1.0"/>
<circle cx="139.5" cy="252.6" r="1.0"/>
<circle cx="134.5" cy="255.3" r="1.0"/>
<circle cx="163.0" cy="227.7" r="1.0"/>
<circle cx="123.2" cy="261.8" r="1.0"/>
<circle cx="80.5" cy="309.9" r="1.0"/>
<circle cx="124.5" cy="261.6" r="1.0"/>
<circle cx="190.6" cy="198.0" r="1.0"/>
<circle cx="117.1" cy="273.6" r="1.0"/>
<circle cx="140.9" cy="255.4" r="1.0"/>
<circle cx="191.1" cy="194.2" r="1.0"/>
<circle cx="137.6" cy="246.9" r="1.0"/>
<circle cx="225.4" cy="158.5" r="1.0"/>
<circle cx="219.0" cy="161.0" r="1.0"/>
<circle cx="126.6" cy="256.5" r="1.0"/>
<circle cx="183.1" cy="202.9" r="1.0"/>
<circle cx="118.3" cy="269.0" r="1.0"/>
<circle cx="106.4" cy="280.2" r="1.0"/>
<circle cx="145.2" cy="242.9" r="1.0"/>
<circle cx="158.4" cy="231.4" r="1.0"/>
<circle cx="226.3" cy="145.7" r="1.0"/>
<circle cx="102.8" cy="294.8" r="1.0"/>
<circle cx="187.3" cy="198.8" r="1.0"/>
<circle cx="144.0" cy="241.6" r="1.0"/>
<circle cx="106.5" cy="279.9" r="1.0"/>
<circle cx="255.4" cy="139.3" r="1.0"/>
<circle cx="176.4" cy="211.2" r="1.0"/>
<circle cx="101.3" cy="287.0" r="1.0"/>
<circle cx="217.3" cy="177.5" r="1.0"/>
<circle cx="101.1" cy="286.0" r="1.0"/>
<circle cx="93.5" cy="295.8" r="1.0"/>
<circle cx="134.5" cy="259.6" r="1.0"/>
<circle cx="231.4" cy="152.9" r="1.0"/>
<circle cx="81.0" cy="312.0" r="1.0"/>
<circle cx="214.5" cy="170.8" r="1.0"/>
<circle cx="160.3" cy="234.9" r="1.0"/>
<circle cx="93.4" cy="292.3" r="1.0"/>
<circle cx="151.4" cy="235.3" r="1.0"/>
<circle cx="140.2" cy="246.1" r="1.0"/>
<circle cx="152.7" cy="237.4" r="1.0"/>
<circle cx="185.8" cy="203.8" r="1.0"/>
<circle cx="169.5" cy="229.2" r="1.0"/>
<circle cx="285.5" cy="100.0" r="1.0"/>
<circle cx="112.0" cy="270.6" r="1.0"/>
<circle cx="192.1" cy="187.7" r="1.0"/>
<circle cx="143.4" cy="245.1" r="1.0"/>
<circle cx="197.2" cy="189.3" r="1.0"/>
<circle cx="222.5" cy="176.5" r="1.0"/>
<circle cx="263.6" cy="133.1" r="1.0"/>
<circle cx="116.6" cy="273.0" r="1.0"/>
<circle cx="141.0" cy="248.1" r="1.0"/>
<circle cx="236.1" cy="157.1" r="1.0"/>
<circle cx="229.5" cy="164.5" r="1.0"/>
<circle cx="124.8" cy="260.6" r="1.0"/>
<circle cx="226.2" cy="174.1" r="1.0"/>
<circle cx="145.1" cy="247.2" r="1.0"/>
<circle cx="127.3" cy="252.6" r="1.0"/>
<circle cx="181.8" cy="204.7" r="1.0"/>
<circle cx="141.9" cy="247.1" r="1.0"/>
<circle cx="144.7" cy="238.3" r="1.0"/>
<circle cx="130.6" cy="258.8" r="1.0"/>
<circle cx="136.8" cy="229.5" r="1.0"/>
<circle cx="105.7" cy="286.0" r="1.0"/>
<circle cx="81.5" cy="309.4" r="1.0"/>
<circle cx="180.6" cy="207.4" r="1.0"/>
<circle cx="157.4" cy="232.1" r="1.0"/>
<circle cx="174.3" cy="204.0" r="1.0"/>
<circle cx="193.3" cy="199.3" r="1.0"/>
<circle cx="122.5" cy="266.8" r="1.0"/>
<circle cx="123.6" cy="262.1" r="1.0"/>
<circle cx="121.7" cy="262.1" r="1.0"/>
<circle cx="126.7" cy="254.6" r="1.0"/>
<circle cx="182.6" cy="203.3" r="1.0"/>
<circle cx="129.7" cy="250.6" r="1.0"/>
<circle cx="130.4" cy="258.2" r="1.0"/>
<circle cx="167.7" cy="218.4" r="1.0"/>
<circle cx="112.1" cy="272.4" r="1.0"/>
<circle cx="100.1" cy="288.9" r="1.0"/>
<circle cx="173.0" cy="216.0" r="1.0"/>
<circle cx="187.1" cy="201.6" r="1.0"/>
<circle cx="113.8" cy="275.2" r="1.0"/>
<circle cx="163.7" cy="227.0" r="1.0"/>
<circle cx="79.2" cy="315.1" r="1.0"/>
<circle cx="136.4" cy="255.5" r="1.0"/>
<circle cx="147.8" cy="237.1" r="1.0"/>
<circle cx="115.9" cy="292.1" r="1.0"/>
<circle cx="127.3" cy="253.5" r="1.0"/>
<circle cx="165.8" cy="198.8" r="1.0"/>
<circle cx="158.6" cy="225.0" r="1.0"/>
<circle cx="102.4" cy="285.4" r="1.0"/>
<circle cx="187.9" cy="201.2" r="1.0"/>
<circle cx="97.4" cy="282.8" r="1.0"/>
<circle cx="245.2" cy="141.2" r="1.0"/>
<circle cx="120.6" cy="263.4" r="1.0"/>
<circle cx="120.0" cy="269.4" r="1.0"/>
<circle cx="118.7" cy="262.3" r="1.0"/>
<circle cx="268.2" cy="122.5" r="1.0"/>
<circle cx="113.4" cy="273.3" r="1.0"/>
<circle cx="160.2" cy="237.7" r="1.0"/>
<circle cx="268.2" cy="121.9" r="1.0"/>
<circle cx="228.0" cy="157.3" r="1.0"/>
<circle cx="84.5" cy="305.4" r="1.0"/>
<circle cx="149.4" cy="244.2" r="1.0"/>
<circle cx="162.7" cy="222.0" r="1.0"/>
<circle cx="189.9" cy="197.5" r="1.0"/>
<circle cx="131.3" cy="248.7" r="1.0"/>
<circle cx="128.8" cy="265.8" r="1.0"/>
<circle cx="58.9" cy="321.9" r="1.0"/>
<circle cx="87.6" cy="296.8" r="1.0"/>
<circle cx="153.9" cy="238.1" r="1.0"/>
<circle cx="94.8" cy="299.9" r="1.0"/>
<circle cx="122.3" cy="262.2" r="1.0"/>
<circle cx="131.6" cy="262.0" r="1.0"/>
<circle cx="100.9" cy="290.1" r="1.0"/>
<circle cx="86.0" cy="297.9" r="1.0"/>
<circle cx="236.0" cy="157.5" r="1.0"/>
<circle cx="141.4" cy="244.3" r="1.0"/>
<circle cx="120.5" cy="269.3" r="1.0"/>
<circle cx="190.0" cy="195.4" r="1.0"/>
<circle cx="68.1" cy="315.9" r="1.0"/>
<circle cx="117.8" cy="267.6" r="1.0"/>
<circle cx="244.0" cy="152.2" r="1.0"/>
<circle cx="215.1" cy="167.6" r="1.0"/>
<circle cx="166.7" cy="220.2" r="1.0"/>
<circle cx="97.9" cy="294.6" r="1.0"/>
<circle cx="134.4" cy="244.6" r="1.0"/>
<circle cx="82.7" cy="314.5" r="1.0"/>
<circle cx="117.8" cy="258.6" r="1.0"/>
<circle cx="88.8" cy="300.2" r="1.0"/>
<circle cx="105.8" cy="276.7" r="1.0"/>
<circle cx="167.2" cy="220.4" r="1.0"/>
<circle cx="94.6" cy="296.6" r="1.0"/>
<circle cx="104.9" cy="281.8" r="1.0"/>
<circle cx="217.6" cy="168.4" r="1.0"/>
<circle cx="126.2" cy="257.9" r="1.0"/>
<circle cx="128.7" cy="255.2" r="1.0"/>
<circle cx="91.6" cy="300.8" r="1.0"/>
<circle cx="201.2" cy="182.8" r="1.0"/>
<circle cx="180.2" cy="202.5" r="1.0"/>
<circle cx="147.6" cy="240.5" r="1.0"/>
<circle cx="158.4" cy="231.7" r="1.0"/>
<circle cx="89.8" cy="300.2" r="1.0"/>
<circle cx="123.0" cy="261.9" r="1.0"/>
<circle cx="158.6" cy="226.0" r="1.0"/>
<circle cx="244.8" cy="157.5" r="1.0"/>
<circle cx="195.2" cy="201.1" r="1.0"/>
<circle cx="160.0" cy="223.2" r="1.0"/>
<circle cx="149.2" cy="247.5" r="1.0"/>
<circle cx="74.9" cy="310.8" r="1.0"/>
<circle cx="214.7" cy="175.5" r="1.0"/>
<circle cx="99.6" cy="297.8" r="1.0"/>
<circle cx="107.5" cy="279.1" r="1.0"/>
<circle cx="171.8" cy="216.7" r="1.0"/>
<circle cx="194.2" cy="188.0" r="1.0"/>
<circle cx="199.2" cy="154.6" r="1.0"/>
<circle cx="142.2" cy="248.0" r="1.0"/>
<circle cx="104.7" cy="279.4" r="1.0"/>
<circle cx="82.2" cy="299.2" r="1.0"/>
<circle cx="208.4" cy="180.7" r="1.0"/>
<circle cx="258.8" cy="135.8" r="1.0"/>
<circle cx="118.5" cy="259.4" r="1.0"/>
<circle cx="212.6" cy="177.4" r="1.0"/>
<circle cx="142.4" cy="245.1" r="1.0"/>
<circle cx="130.2" cy="257.9" r="1.0"/>
<circle cx="152.0" cy="235.6" r="1.0"/>
<circle cx="63.5" cy="327.2" r="1.0"/>
<circle cx="140.7" cy="244.2" r="1.0"/>
<circle cx="120.7" cy="262.7" r="1.0"/>
<circle cx="182.5" cy="205.9" r="1.0"/>
<circle cx="150.1" cy="245.6" r="1.0"/>
<circle cx="213.0" cy="174.0" r="1.0"/>
<circle cx="218.9" cy="179.3" r="1.0"/>
<circle cx="133.3" cy="257.8" r="1.0"/>
<circle cx="123.1" cy="257.0" r="1.0"/>
<circle cx="232.4" cy="137.5" r="1.0"/>
<circle cx="147.6" cy="237.5" r="1.0"/>
<circle cx="98.4" cy="292.0" r="1.0"/>
<circle cx="86.0" cy="298.9" r="1.0"/>
<circle cx="263.1" cy="143.0" r="1.0"/>
<circle cx="156.2" cy="235.3" r="1.0"/>
<circle cx="83.9" cy="294.8" r="1.0"/>
<circle cx="147.1" cy="235.8" r="1.0"/>
<circle cx="147.2" cy="244.3" r="1.0"/>
<circle cx="137.7" cy="254.6" r="1.0"/>
<circle cx="244.0" cy="136.7" r="1.0"/>
<circle cx="235.0" cy="152.8" r="1.0"/>
<circle cx="102.2" cy="286.7" r="1.0"/>
<circle cx="101.4" cy="284.6" r="1.0"/>
<circle cx="142.2" cy="246.8" r="1.0"/>
<circle cx="207.8" cy="186.4" r="1.0"/>
<circle cx="162.8" cy="221.8" r="1.0"/>
<circle cx="189.8" cy="199.7" r="1.0"/>
<circle cx="156.9" cy="233.5" r="1.0"/>
<circle cx="123.4" cy="267.8" r="1.0"/>
<circle cx="200.6" cy="185.7" r="1.0"/>
<circle cx="67.1" cy="322.3" r="1.0"/>
<circle cx="170.8" cy="214.4" r="1.0"/>
<circle cx="107.8" cy="280.2" r="1.0"/>
<circle cx="145.9" cy="234.9" r="1.0"/>
<circle cx="249.4" cy="141.1" r="1.0"/>
<circle cx="152.3" cy="236.9" r="1.0"/>
<circle cx="82.9" cy="310.0" r="1.0"/>
<circle cx="139.7" cy="250.9" r="1.0"/>
<circle cx="172.2" cy="210.7" r="1.0"/>
<circle cx="81.5" cy="296.7" r="1.0"/>
<circle cx="115.1" cy="279.5" r="1.0"/>
<circle cx="68.3" cy="324.8" r="1.0"/>
<circle cx="152.7" cy="232.6" r="1.0"/>
<circle cx="128.8" cy="255.7" r="1.0"/>
<circle cx="154.5" cy="234.8" r="1.0"/>
<circle cx="119.7" cy="267.2" r="1.0"/>
<circle cx="179.9" cy="212.6" r="1.0"/>
<circle cx="105.0" cy="283.1" r="1.0"/>
<circle cx="224.5" cy="156.3" r="1.0"/>
<circle cx="241.5" cy="139.1" r="1.0"/>
<circle cx="153.9" cy="233.8" r="1.0"/>
<circle cx="144.2" cy="243.7" r="1.0"/>
<circle cx="207.6" cy="177.9" r="1.0"/>
<circle cx="117.5" cy="266.3" r="1.0"/>
<circle cx="198.9" cy="186.5" r="1.0"/>
<circle cx="113.7" cy="283.6" r="1.0"/>
<circle cx="186.5" cy="199.5" r="1.0"/>
<circle cx="124.9" cy="256.8" r="1.0"/>
<circle cx="160.3" cy="229.1" r="1.0"/>
<circle cx="232.9" cy="159.6" r="1.0"/>
<circle cx="89.5" cy="296.2" r="1.0"/>
<circle cx="203.1" cy="182.8" r="1.0"/>
<circle cx="149.4" cy="232.1" r="1.0"/>
<circle cx="125.4" cy="261.5" r="1.0"/>
<circle cx="129.7" cy="259.5" r="1.0"/>
<circle cx="94.8" cy="298.4" r="1.0"/>
<circle cx="116.7" cy="276.6" r="1.0"/>
<circle cx="166.5" cy="223.7" r="1.0"/>
<circle cx="97.8" cy="291.0" r="1.0"/>
<circle cx="175.5" cy="214.9" r="1.0"/>
<circle cx="244.2" cy="138.5" r="1.0"/>
<circle cx="255.1" cy="137.3" r="1.0"/>
<circle cx="222.1" cy="165.2" r="1.0"/>
<circle cx="202.3" cy="189.1" r="1.0"/>
<circle cx="111.8" cy="270.8" r="1.0"/>
<circle cx="248.2" cy="135.1" r="1.0"/>
<circle cx="122.2" cy="266.1" r="1.0"/>
<circle cx="204.3" cy="179.9" r="1.0"/>
<circle cx="208.2" cy="178.7" r="1.0"/>
<circle cx="166.6" cy="223.6" r="1.0"/>
<circle cx="149.8" cy="228.3" r="1.0"/>
<circle cx="119.3" cy="265.7" r="1.0"/>
<circle cx="147.1" cy="234.7" r="1.0"/>
<circle cx="114.8" cy="268.9" r="1.0"/>
<circle cx="105.6" cy="277.2" r="1.0"/>
<circle cx="101.9" cy="284.8" r="1.0"/>
<circle cx="196.6" cy="207.2" r="1.0"/>
<circle cx="228.4" cy="156.0" r="1.0"/>
<circle cx="110.9" cy="276.0" r="1.0"/>
<circle cx="70.7" cy="314.5" r="1.0"/>
<circle cx="116.8" cy="270.6" r="1.0"/>
<circle cx="110.2" cy="279.0" r="1.0"/>
<circle cx="107.5" cy="282.7" r="1.0"/>
<circle cx="158.4" cy="226.6" r="1.0"/>
<circle cx="137.6" cy="242.0" r="1.0"/>
<circle cx="142.0" cy="246.0" r="1.0"/>
<circle cx="114.7" cy="271.1" r="1.0"/>
<circle cx="171.9" cy="196.9" r="1.0"/>
<circle cx="119.5" cy="270.2" r="1.0"/>
<circle cx="140.7" cy="247.5" r="1.0"/>
<circle cx="138.2" cy="252.4" r="1.0"/>
<circle cx="220.8" cy="157.9" r="1.0"/>
<circle cx="119.6" cy="264.6" r="1.0"/>
<circle cx="180.9" cy="207.8" r="1.0"/>
<circle cx="126.9" cy="265.3" r="1.0"/>
<circle cx="217.9" cy="169.9" r="1.0"/>
<circle cx="133.7" cy="250.3" r="1.0"/>
<circle cx="147.0" cy="241.0" r="1.0"/>
<circle cx="207.1" cy="181.6" r="1.0"/>
<circle cx="171.3" cy="213.8" r="1.0"/>
<circle cx="97.7" cy="305.4" r="1.0"/>
<circle cx="110.3" cy="276.7" r="1.0"/>
<circle cx="260.5" cy="124.2" r="1.0"/>
<circle cx="88.2" cy="301.2" r="1.0"/>
<circle cx="120.3" cy="269.3" r="1.0"/>
<circle cx="239.6" cy="145.8" r="1.0"/>
<circle cx="77.5" cy="309.9" r="1.0"/>
<circle cx="104.4" cy="283.4" r="1.0"/>
<circle cx="121.4" cy="264.6" r="1.0"/>
<circle cx="90.6" cy="295.8" r="1.0"/>
<circle cx="140.3" cy="249.7" r="1.0"/>
<circle cx="163.5" cy="233.0" r="1.0"/>
<circle cx="133.9" cy="251.8" r="1.0"/>
<circle cx="99.3" cy="281.5" r="1.0"/>
<circle cx="198.0" cy="184.4" r="1.0"/>
<circle cx="192.4" cy="200.5" r="1.0"/>
<circle cx="151.3" cy="232.4" r="1.0"/>
<circle cx="105.4" cy="279.5" r="1.0"/>
<circle cx="157.7" cy="230.2" r="1.0"/>
<circle cx="165.5" cy="218.7" r="1.0"/>
<circle cx="139.7" cy="244.8" r="1.0"/>
<circle cx="207.3" cy="167.5" r="1.0"/>
<circle cx="132.5" cy="257.9" r="1.0"/>
<circle cx="147.5" cy="237.7" r="1.0"/>
<circle cx="99.0" cy="288.5" r="1.0"/>
<circle cx="154.1" cy="234.4" r="1.0"/>
<circle cx="185.4" cy="194.4" r="1.0"/>
<circle cx="188.5" cy="193.4" r="1.0"/>
<circle cx="117.0" cy="276.2" r="1.0"/>
<circle cx="261.4" cy="126.9" r="1.0"/>
<circle cx="185.2" cy="201.2" r="1.0"/>
<circle cx="135.7" cy="255.8" r="1.0"/>
<circle cx="136.1" cy="248.3" r="1.0"/>
<circle cx="196.8" cy="191.8" r="1.0"/>
<circle cx="110.5" cy="276.1" r="1.0"/>
<circle cx="160.1" cy="225.1" r="1.0"/>
<circle cx="186.1" cy="189.4" r="1.0"/>
<circle cx="157.5" cy="229.4" r="1.0"/>
<circle cx="212.5" cy="177.3" r="1.0"/>
<circle cx="145.3" cy="231.4" r="1.0"/>
<circle cx="142.8" cy="245.9" r="1.0"/>
<circle cx="119.1" cy="271.1" r="1.0"/>
<circle cx="221.1" cy="171.3" r="1.0"/>
<circle cx="130.6" cy="250.2" r="1.0"/>
<circle cx="174.4" cy="211.8" r="1.0"/>
<circle cx="139.2" cy="242.0" r="1.0"/>
<circle cx="228.5" cy="158.0" r="1.0"/>
<circle cx="226.5" cy="161.7" r="1.0"/>
<circle cx="82.6" cy="308.9" r="1.0"/>
<circle cx="279.9" cy="110.8" r="1.0"/>
<circle cx="164.0" cy="220.5" r="1.0"/>
<circle cx="91.6" cy="294.8" r="1.0"/>
<circle cx="155.7" cy="221.6" r="1.0"/>
<circle cx="78.9" cy="310.4" r="1.0"/>
<circle cx="157.0" cy="231.6" r="1.0"/>
<circle cx="108.5" cy="281.6" r="1.0"/>
<circle cx="130.1" cy="252.8" r="1.0"/>
<circle cx="128.5" cy="266.0" r="1.0"/>
<circle cx="167.1" cy="215.3" r="1.0"/>
<circle cx="191.9" cy="185.8" r="1.0"/>
<circle cx="226.0" cy="161.7" r="1.0"/>
<circle cx="129.7" cy="255.2" r="1.0"/>
<circle cx="149.8" cy="250.1" r="1.0"/>
<circle cx="60.3" cy="331.7" r="1.0"/>
<circle cx="129.9" cy="262.3" r="1.0"/>
<circle cx="237.6" cy="148.8" r="1.0"/>
<circle cx="100.9" cy="286.1" r="1.0"/>
<circle cx="210.8" cy="188.5" r="1.0"/>
<circle cx="170.2" cy="213.8" r="1.0"/>
<circle cx="120.8" cy="264.3" r="1.0"/>
<circle cx="197.8" cy="192.9" r="1.0"/>
<circle cx="120.2" cy="268.4" r="1.0"/>
<circle cx="222.8" cy="175.1" r="1.0"/>
<circle cx="101.0" cy="286.6" r="1.0"/>
<circle cx="91.1" cy="284.1" r="1.0"/>
<circle cx="191.7" cy="197.8" r="1.0"/>
<circle cx="140.5" cy="244.1" r="1.0"/>
<circle cx="103.4" cy="285.3" r="1.0"/>
<circle cx="150.7" cy="231.6" r="1.0"/>
<circle cx="116.6" cy="268.0" r="1.0"/>
<circle cx="156.6" cy="231.2" r="1.0"/>
<circle cx="186.4" cy="226.3" r="1.0"/>
<circle cx="203.9" cy="185.0" r="1.0"/>
<circle cx="86.5" cy="293.9" r="1.0"/>
<circle cx="163.4" cy="227.2" r="1.0"/>
<circle cx="257.7" cy="124.4" r="1.0"/>
<circle cx="135.6" cy="254.4" r="1.0"/>
<circle cx="190.3" cy="209.1" r="1.0"/>
<circle cx="99.9" cy="282.1" r="1.0"/>
<circle cx="203.2" cy="182.7" r="1.0"/>
<circle cx="151.9" cy="238.8" r="1.0"/>
<circle cx="215.8" cy="174.0" r="1.0"/>
<circle cx="197.8" cy="187.4" r="1.0"/>
<circle cx="204.1" cy="185.1" r="1.0"/>
<circle cx="88.5" cy="296.7" r="1.0"/>
<circle cx="182.5" cy="205.2" r="1.0"/>
<circle cx="108.7" cy="285.4" r="1.0"/>
<circle cx="119.9" cy="267.7" r="1.0"/>
<circle cx="127.4" cy="263.2" r="1.0"/>
<circle cx="160.2" cy="229.5" r="1.0"/>
<circle cx="168.2" cy="216.5" r="1.0"/>
<circle cx="226.2" cy="162.7" r="1.0"/>
<circle cx="70.0" cy="315.5" r="1.0"/>
<circle cx="104.8" cy="276.1" r="1.0"/>
<circle cx="130.4" cy="256.2" r="1.0"/>
<circle cx="196.0" cy="196.5" r="1.0"/>
<circle cx="147.7" cy="243.8" r="1.0"/>
<circle cx="152.9" cy="231.3" r="1.0"/>
<circle cx="188.7" cy="202.4" r="1.0"/>
<circle cx="177.1" cy="212.6" r="1.0"/>
<circle cx="118.0" cy="269.7" r="1.0"/>
<circle cx="93.3" cy="292.3" r="1.0"/>
<circle cx="135.2" cy="248.7" r="1.0"/>
<circle cx="209.2" cy="175.6" r="1.0"/>
<circle cx="164.9" cy="233.4" r="1.0"/>
<circle cx="83.4" cy="304.4" r="1.0"/>
<circle cx="146.0" cy="241.9" r="1.0"/>
<circle cx="126.1" cy="261.2" r="1.0"/>
<circle cx="155.7" cy="244.1" r="1.0"/>
<circle cx="165.9" cy="222.6" r="1.0"/>
<circle cx="247.3" cy="150.4" r="1.0"/>
<circle cx="134.3" cy="248.5" r="1.0"/>
<circle cx="137.8" cy="244.5" r="1.0"/>
<circle cx="168.2" cy="208.6" r="1.0"/>
<circle cx="219.0" cy="162.3" r="1.0"/>
<circle cx="188.2" cy="202.1" r="1.0"/>
<circle cx="145.9" cy="238.2" r="1.0"/>
<circle cx="198.5" cy="191.7" r="1.0"/>
<circle cx="153.1" cy="232.1" r="1.0"/>
<circle cx="237.9" cy="156.1" r="1.0"/>
<circle cx="119.2" cy="269.6" r="1.0"/>
<circle cx="103.8" cy="280.6" r="1.0"/>
<circle cx="207.5" cy="152.6" r="1.0"/>
<circle cx="116.7" cy="270.4" r="1.0"/>
<circle cx="214.2" cy="157.0" r="1.0"/>
<circle cx="165.0" cy="213.3" r="1.0"/>
<circle cx="154.7" cy="236.4" r="1.0"/>
<circle cx="91.7" cy="295.4" r="1.0"/>
<circle cx="195.2" cy="198.2" r="1.0"/>
<circle cx="99.7" cy="287.7" r="1.0"/>
<circle cx="238.5" cy="157.8" r="1.0"/>
<circle cx="213.9" cy="173.4" r="1.0"/>
<circle cx="128.6" cy="255.5" r="1.0"/>
<circle cx="105.5" cy="278.7" r="1.0"/>
<circle cx="220.3" cy="165.8" r="1.0"/>
<circle cx="140.1" cy="246.9" r="1.0"/>
<circle cx="106.4" cy="280.3" r="1.0"/>
<circle cx="151.3" cy="235.4" r="1.0"/>
<circle cx="120.4" cy="264.9" r="1.0"/>
<circle cx="138.2" cy="248.8" r="1.0"/>
<circle cx="159.7" cy="225.8" r="1.0"/>
<circle cx="219.4" cy="177.2" r="1.0"/>
<circle cx="192.8" cy="191.5" r="1.0"/>
<circle cx="106.2" cy="275.6" r="1.0"/>
<circle cx="140.7" cy="245.8" r="1.0"/>
<circle cx="155.3" cy="236.1" r="1.0"/>
<circle cx="261.0" cy="115.0" r="1.0"/>
<circle cx="94.3" cy="293.7" r="1.0"/>
<circle cx="155.3" cy="241.1" r="1.0"/>
<circle cx="218.3" cy="169.6" r="1.0"/>
<circle cx="144.6" cy="238.9" r="1.0"/>
<circle cx="120.6" cy="264.3" r="1.0"/>
<circle cx="146.9" cy="232.7" r="1.0"/>
<circle cx="128.1" cy="255.3" r="1.0"/>
<circle cx="234.5" cy="152.1" r="1.0"/>
<circle cx="95.7" cy="302.6" r="1.0"/>
<circle cx="120.1" cy="270.3" r="1.0"/>
<circle cx="101.0" cy="285.1" r="1.0"/>
<circle cx="188.1" cy="196.6" r="1.0"/>
<circle cx="118.6" cy="274.4" r="1.0"/>
<circle cx="224.1" cy="165.3" r="1.0"/>
<circle cx="219.3" cy="165.9" r="1.0"/>
<circle cx="225.9" cy="175.3" r="1.0"/>
<circle cx="115.5" cy="296.5" r="1.0"/>
<circle cx="51.2" cy="336.5" r="1.0"/>
<circle cx="134.5" cy="251.7" r="1.0"/>
<circle cx="244.0" cy="145.0" r="1.0"/>
<circle cx="183.7" cy="218.1" r="1.0"/>
<circle cx="89.7" cy="297.2" r="1.0"/>
<circle cx="185.0" cy="206.5" r="1.0"/>
<circle cx="217.0" cy="167.6" r="1.0"/>
<circle cx="243.4" cy="144.1" r="1.0"/>
<circle cx="184.4" cy="199.1" r="1.0"/>
<circle cx="204.4" cy="180.4" r="1.0"/>
<circle cx="211.2" cy="177.8" r="1.0"/>
<circle cx="131.6" cy="250.6" r="1.0"/>
<circle cx="100.8" cy="270.7" r="1.0"/>
<circle cx="182.0" cy="202.5" r="1.0"/>
<circle cx="111.4" cy="271.6" r="1.0"/>
<circle cx="132.8" cy="256.1" r="1.0"/>
<circle cx="274.0" cy="109.0" r="1.0"/>
<circle cx="151.9" cy="233.6" r="1.0"/>
<circle cx="153.6" cy="239.4" r="1.0"/>
<circle cx="229.4" cy="158.0" r="1.0"/>
<circle cx="113.7" cy="275.0" r="1.0"/>
<circle cx="303.3" cy="88.9" r="1.0"/>
<circle cx="216.3" cy="170.4" r="1.0"/>
<circle cx="129.3" cy="251.5" r="1.0"/>
<circle cx="128.7" cy="262.5" r="1.0"/>
<circle cx="111.3" cy="274.2" r="1.0"/>
<circle cx="220.8" cy="177.0" r="1.0"/>
<circle cx="105.9" cy="280.5" r="1.0"/>
<circle cx="78.2" cy="305.5" r="1.0"/>
<circle cx="218.5" cy="165.5" r="1.0"/>
<circle cx="166.0" cy="219.5" r="1.0"/>
<circle cx="171.8" cy="218.5" r="1.0"/>
<circle cx="189.0" cy="204.4" r="1.0"/>
<circle cx="87.0" cy="300.6" r="1.0"/>
<circle cx="99.2" cy="295.5" r="1.0"/>
<circle cx="151.9" cy="239.0" r="1.0"/>
<circle cx="81.0" cy="303.3" r="1.0"/>
<circle cx="153.6" cy="236.3" r="1.0"/>
<circle cx="190.8" cy="190.1" r="1.0"/>
<circle cx="172.6" cy="233.9" r="1.0"/>
<circle cx="158.0" cy="226.5" r="1.0"/>
<circle cx="80.5" cy="309.9" r="1.0"/>
<circle cx="123.0" cy="263.5" r="1.0"/>
<circle cx="214.5" cy="180.0" r="1.0"/>
<circle cx="101.7" cy="285.1" r="1.0"/>
<circle cx="147.6" cy="240.4" r="1.0"/>
<circle cx="88.5" cy="299.8" r="1.0"/>
<circle cx="230.1" cy="154.9" r="1.0"/>
<circle cx="108.9" cy="269.4" r="1.0"/>
<circle cx="143.1" cy="247.5" r="1.0"/>
<circle cx="151.4" cy="232.9" r="1.0"/>
<circle cx="188.8" cy="198.0" r="1.0"/>
<circle cx="231.0" cy="156.1" r="1.0"/>
<circle cx="186.6" cy="193.1" r="1.0"/>
<circle cx="127.3" cy="266.4" r="1.0"/>
<circle cx="89.8" cy="301.1" r="1.0"/>
<circle cx="187.2" cy="211.7" r="1.0"/>
<circle cx="251.5" cy="136.9" r="1.0"/>
<circle cx="70.2" cy="317.5" r="1.0"/>
<circle cx="201.8" cy="171.7" r="1.0"/>
<circle cx="105.2" cy="279.9" r="1.0"/>
<circle cx="136.3" cy="245.2" r="1.0"/>
<circle cx="153.6" cy="229.4" r="1.0"/>
<circle cx="163.9" cy="225.9" r="1.0"/>
<circle cx="260.5" cy="118.1" r="1.0"/>
<circle cx="173.1" cy="208.6" r="1.0"/>
<circle cx="130.7" cy="254.2" r="1.0"/>
<circle cx="183.6" cy="202.7" r="1.0"/>
<circle cx="146.3" cy="239.2" r="1.0"/>
<circle cx="144.2" cy="262.8" r="1.0"/>
<circle cx="129.5" cy="268.2" r="1.0"/>
<circle cx="156.8" cy="229.2" r="1.0"/>
<circle cx="112.8" cy="271.1" r="1.0"/>
<circle cx="115.0" cy="277.4" r="1.0"/>
<circle cx="111.5" cy="276.5" r="1.0"/>
<circle cx="140.9" cy="246.9" r="1.0"/>
<circle cx="114.4" cy="273.6" r="1.0"/>
<circle cx="209.6" cy="174.9" r="1.0"/>
<circle cx="211.4" cy="175.3" r="1.0"/>
<circle cx="130.6" cy="255.5" r="1.0"/>
<circle cx="158.3" cy="237.4" r="1.0"/>
<circle cx="214.9" cy="176.1" r="1.0"/>
<circle cx="128.4" cy="256.8" r="1.0"/>
<circle cx="146.6" cy="245.4" r="1.0"/>
<circle cx="136.1" cy="250.1" r="1.0"/>
<circle cx="176.4" cy="212.8" r="1.0"/>
<circle cx="242.1" cy="151.3" r="1.0"/>
<circle cx="102.1" cy="283.0" r="1.0"/>
<circle cx="247.1" cy="145.4" r="1.0"/>
<circle cx="173.3" cy="225.6" r="1.0"/>
<circle cx="201.8" cy="187.7" r="1.0"/>
<circle cx="164.7" cy="222.2" r="1.0"/>
<circle cx="210.2" cy="166.8" r="1.0"/>
<circle cx="128.6" cy="265.0" r="1.0"/>
<circle cx="188.1" cy="199.2" r="1.0"/>
<circle cx="115.2" cy="273.3" r="1.0"/>
<circle cx="149.4" cy="234.7" r="1.0"/>
<circle cx="179.0" cy="210.4" r="1.0"/>
<circle cx="114.8" cy="279.8" r="1.0"/>
<circle cx="82.8" cy="296.8" r="1.0"/>
<circle cx="200.2" cy="190.7" r="1.0"/>
<circle cx="195.5" cy="192.0" r="1.0"/>
<circle cx="173.3" cy="218.2" r="1.0"/>
<circle cx="134.1" cy="259.5" r="1.0"/>
<circle cx="171.5" cy="218.7" r="1.0"/>
<circle cx="92.5" cy="289.7" r="1.0"/>
<circle cx="179.2" cy="202.6" r="1.0"/>
<circle cx="149.6" cy="239.4" r="1.0"/>
<circle cx="161.5" cy="222.5" r="1.0"/>
<circle cx="145.1" cy="244.3" r="1.0"/>
<circle cx="116.1" cy="270.4" r="1.0"/>
<circle cx="191.8" cy="194.8" r="1.0"/>
<circle cx="144.4" cy="240.7" r="1.0"/>
<circle cx="190.1" cy="206.2" r="1.0"/>
<circle cx="126.3" cy="261.6" r="1.0"/>
<circle cx="92.2" cy="292.4" r="1.0"/>
<circle cx="155.0" cy="231.8" r="1.0"/>
<circle cx="167.2" cy="224.9" r="1.0"/>
<circle cx="228.3" cy="146.0" r="1.0"/>
<circle cx="216.8" cy="172.0" r="1.0"/>
<circle cx="81.2" cy="301.7" r="1.0"/>
<circle cx="182.0" cy="203.9" r="1.0"/>
<circle cx="117.2" cy="266.2" r="1.0"/>
<circle cx="174.8" cy="219.3" r="1.0"/>
<circle cx="130.9" cy="249.9" r="1.0"/>
<circle cx="124.4" cy="263.3" r="1.0"/>
<circle cx="148.6" cy="246.0" r="1.0"/>
<circle cx="147.8" cy="238.6" r="1.0"/>
<circle cx="172.2" cy="201.1" r="1.0"/>
<circle cx="159.9" cy="224.2" r="1.0"/>
<circle cx="179.7" cy="211.4" r="1.0"/>
<circle cx="128.0" cy="260.5" r="1.0"/>
<circle cx="170.7" cy="208.3" r="1.0"/>
<circle cx="131.3" cy="264.1" r="1.0"/>
<circle cx="168.8" cy="218.9" r="1.0"/>
<circle cx="144.1" cy="244.8" r="1.0"/>
<circle cx="153.8" cy="226.5" r="1.0"/>
<circle cx="71.4" cy="316.5" r="1.0"/>
<circle cx="151.0" cy="218.9" r="1.0"/>
<circle cx="115.9" cy="273.3" r="1.0"/>
<circle cx="132.9" cy="259.0" r="1.0"/>
<circle cx="98.9" cy="285.2" r="1.0"/>
<circle cx="174.7" cy="204.2" r="1.0"/>
<circle cx="224.2" cy="175.7" r="1.0"/>
<circle cx="131.2" cy="254.0" r="1.0"/>
<circle cx="97.5" cy="286.0" r="1.0"/>
<circle cx="160.8" cy="230.1" r="1.0"/>
<circle cx="103.8" cy="282.6" r="1.0"/>
<circle cx="217.0" cy="168.2" r="1.0"/>
<circle cx="111.5" cy="277.1" r="1.0"/>
<circle cx="132.9" cy="256.0" r="1.0"/>
<circle cx="156.6" cy="232.6" r="1.0"/>
<circle cx="99.1" cy="288.8" r="1.0"/>
<circle cx="132.9" cy="271.8" r="1.0"/>
<circle cx="117.4" cy="269.8" r="1.0"/>
<circle cx="189.1" cy="203.1" r="1.0"/>
<circle cx="250.4" cy="136.5" r="1.0"/>
<circle cx="131.2" cy="256.5" r="1.0"/>
<circle cx="192.3" cy="210.3" r="1.0"/>
<circle cx="112.1" cy="270.2" r="1.0"/>
<circle cx="156.4" cy="219.0" r="1.0"/>
<circle cx="137.0" cy="246.0" r="1.0"/>
<circle cx="121.2" cy="274.0" r="1.0"/>
<circle cx="201.1" cy="181.5" r="1.0"/>
<circle cx="180.9" cy="204.9" r="1.0"/>
<circle cx="107.5" cy="280.0" r="1.0"/>
<circle cx="117.2" cy="271.7" r="1.0"/>
<circle cx="198.8" cy="188.5" r="1.0"/>
<circle cx="269.8" cy="111.2" r="1.0"/>
<circle cx="166.0" cy="219.4" r="1.0"/>
<circle cx="205.5" cy="183.1" r="1.0"/>
<circle cx="254.8" cy="137.9" r="1.0"/>
<circle cx="186.8" cy="201.7" r="1.0"/>
<circle cx="157.9" cy="225.7" r="1.0"/>
<circle cx="113.9" cy="267.5" r="1.0"/>
<circle cx="127.9" cy="265.6" r="1.0"/>
<circle cx="159.8" cy="227.3" r="1.0"/>
<circle cx="228.5" cy="160.1" r="1.0"/>
<circle cx="131.4" cy="260.2" r="1.0"/>
<circle cx="146.0" cy="238.8" r="1.0"/>
<circle cx="83.6" cy="297.0" r="1.0"/>
<circle cx="176.4" cy="215.3" r="1.0"/>
<circle cx="143.7" cy="249.7" r="1.0"/>
<circle cx="199.4" cy="183.5" r="1.0"/>
<circle cx="119.9" cy="266.2" r="1.0"/>
<circle cx="169.1" cy="216.3" r="1.0"/>
<circle cx="179.0" cy="209.8" r="1.0"/>
<circle cx="136.9" cy="252.5" r="1.0"/>
<circle cx="103.2" cy="281.4" r="1.0"/>
<circle cx="140.9" cy="247.8" r="1.0"/>
<circle cx="187.1" cy="207.3" r="1.0"/>
<circle cx="109.7" cy="277.8" r="1.0"/>
<circle cx="93.1" cy="289.0" r="1.0"/>
<circle cx="145.8" cy="247.6" r="1.0"/>
<circle cx="119.6" cy="261.5" r="1.0"/>
<circle cx="201.4" cy="183.3" r="1.0"/>
<circle cx="197.2" cy="203.1" r="1.0"/>
<circle cx="226.6" cy="160.5" r="1.0"/>
<circle cx="203.3" cy="184.0" r="1.0"/>
<circle cx="176.4" cy="206.9" r="1.0"/>
<circle cx="105.9" cy="279.2" r="1.0"/>
<circle cx="196.8" cy="194.9" r="1.0"/>
<circle cx="184.2" cy="207.5" r="1.0"/>
<circle cx="182.5" cy="201.2" r="1.0"/>
<circle cx="174.5" cy="212.3" r="1.0"/>
<circle cx="206.0" cy="179.6" r="1.0"/>
<circle cx="122.6" cy="263.5" r="1.0"/>
<circle cx="171.1" cy="206.7" r="1.0"/>
<circle cx="157.4" cy="233.5" r="1.0"/>
<circle cx="133.5" cy="250.2" r="1.0"/>
<circle cx="128.1" cy="263.9" r="1.0"/>
<circle cx="109.9" cy="275.0" r="1.0"/>
<circle cx="153.0" cy="229.9" r="1.0"/>
<circle cx="129.1" cy="266.3" r="1.0"/>
<circle cx="144.3" cy="241.5" r="1.0"/>
<circle cx="212.5" cy="175.6" r="1.0"/>
<circle cx="171.4" cy="216.6" r="1.0"/>
<circle cx="179.4" cy="207.6" r="1.0"/>
<circle cx="248.8" cy="142.6" r="1.0"/>
<circle cx="112.5" cy="277.5" r="1.0"/>
<circle cx="151.9" cy="233.1" r="1.0"/>
<circle cx="93.2" cy="291.4" r="1.0"/>
<circle cx="128.6" cy="262.0" r="1.0"/>
<circle cx="231.2" cy="161.6" r="1.0"/>
<circle cx="95.1" cy="285.2" r="1.0"/>
<circle cx="190.7" cy="192.6" r="1.0"/>
<circle cx="213.5" cy="172.3" r="1.0"/>
<circle cx="150.4" cy="239.9" r="1.0"/>
<circle cx="195.1" cy="196.1" r="1.0"/>
<circle cx="142.5" cy="243.2" r="1.0"/>
<circle cx="126.0" cy="266.8" r="1.0"/>
<circle cx="151.0" cy="231.1" r="1.0"/>
<circle cx="109.2" cy="277.2" r="1.0"/>
<circle cx="123.8" cy="261.1" r="1.0"/>
<circle cx="132.5" cy="260.7" r="1.0"/>
<circle cx="268.1" cy="126.8" r="1.0"/>
<circle cx="128.2" cy="261.3" r="1.0"/>
<circle cx="115.3" cy="270.3" r="1.0"/>
<circle cx="231.9" cy="156.3" r="1.0"/>
<circle cx="104.5" cy="284.4" r="1.0"/>
<circle cx="246.4" cy="138.4" r="1.0"/>
<circle cx="209.8" cy="176.5" r="1.0"/>
<circle cx="172.6" cy="205.5" r="1.0"/>
<circle cx="144.3" cy="243.4" r="1.0"/>
<circle cx="108.0" cy="282.1" r="1.0"/>
<circle cx="91.3" cy="296.0" r="1.0"/>
<circle cx="94.5" cy="284.5" r="1.0"/>
<circle cx="129.3" cy="259.5" r="1.0"/>
<circle cx="145.8" cy="241.1" r="1.0"/>
<circle cx="229.4" cy="159.1" r="1.0"/>
<circle cx="151.5" cy="234.3" r="1.0"/>
<circle cx="270.9" cy="115.2" r="1.0"/>
<circle cx="185.3" cy="207.1" r="1.0"/>
<circle cx="110.5" cy="277.3" r="1.0"/>
<circle cx="147.5" cy="234.0" r="1.0"/>
<circle cx="105.6" cy="278.3" r="1.0"/>
<circle cx="80.5" cy="303.9" r="1.0"/>
<circle cx="235.8" cy="147.9" r="1.0"/>
<circle cx="130.0" cy="258.1" r="1.0"/>
<circle cx="103.6" cy="288.4" r="1.0"/>
<circle cx="90.8" cy="285.1" r="1.0"/>
<circle cx="173.9" cy="220.5" r="1.0"/>
<circle cx="136.2" cy="251.1" r="1.0"/>
<circle cx="72.6" cy="324.8" r="1.0"/>
<circle cx="188.7" cy="199.7" r="1.0"/>
<circle cx="116.0" cy="273.3" r="1.0"/>
<circle cx="193.7" cy="201.5" r="1.0"/>
<circle cx="150.5" cy="234.8" r="1.0"/>
<circle cx="148.3" cy="241.0" r="1.0"/>
<circle cx="144.7" cy="247.6" r="1.0"/>
<circle cx="170.2" cy="217.7" r="1.0"/>
<circle cx="268.2" cy="125.2" r="1.0"/>
<circle cx="195.6" cy="186.6" r="1.0"/>
<circle cx="98.0" cy="290.5" r="1.0"/>
<circle cx="155.2" cy="231.3" r="1.0"/>
<circle cx="114.0" cy="277.0" r="1.0"/>
<circle cx="98.4" cy="290.1" r="1.0"/>
<circle cx="111.8" cy="276.2" r="1.0"/>
<circle cx="118.9" cy="269.1" r="1.0"/>
<circle cx="244.4" cy="145.1" r="1.0"/>
<circle cx="184.1" cy="202.5" r="1.0"/>
<circle cx="205.1" cy="158.9" r="1.0"/>
<circle cx="188.9" cy="199.2" r="1.0"/>
<circle cx="133.1" cy="254.9" r="1.0"/>
<circle cx="126.1" cy="262.2" r="1.0"/>
<circle cx="136.4" cy="235.9" r="1.0"/>
<circle cx="116.4" cy="261.5" r="1.0"/>
<circle cx="142.2" cy="243.2" r="1.0"/>
<circle cx="184.6" cy="200.2" r="1.0"/>
<circle cx="100.7" cy="288.5" r="1.0"/>
<circle cx="121.4" cy="266.1" r="1.0"/>
<circle cx="145.5" cy="241.0" r="1.0"/>
<circle cx="175.9" cy="210.5" r="1.0"/>
<circle cx="166.4" cy="223.4" r="1.0"/>
<circle cx="191.2" cy="201.1" r="1.0"/>
<circle cx="90.2" cy="294.1" r="1.0"/>
<circle cx="107.6" cy="277.8" r="1.0"/>
<circle cx="125.9" cy="267.6" r="1.0"/>
<circle cx="121.5" cy="265.4" r="1.0"/>
<circle cx="183.1" cy="186.6" r="1.0"/>
<circle cx="268.2" cy="121.7" r="1.0"/>
<circle cx="172.9" cy="213.4" r="1.0"/>
<circle cx="85.8" cy="309.5" r="1.0"/>
<circle cx="120.1" cy="262.2" r="1.0"/>
<circle cx="202.1" cy="192.7" r="1.0"/>
<circle cx="235.7" cy="161.0" r="1.0"/>
<circle cx="162.7" cy="226.4" r="1.0"/>
<circle cx="131.6" cy="248.3" r="1.0"/>
<circle cx="125.8" cy="263.1" r="1.0"/>
<circle cx="158.9" cy="235.9" r="1.0"/>
<circle cx="211.2" cy="174.2" r="1.0"/>
<circle cx="134.1" cy="251.8" r="1.0"/>
<circle cx="109.6" cy="272.6" r="1.0"/>
<circle cx="61.6" cy="329.0" r="1.0"/>
<circle cx="108.2" cy="299.2" r="1.0"/>
<circle cx="211.4" cy="176.9" r="1.0"/>
<circle cx="164.2" cy="220.7" r="1.0"/>
<circle cx="263.9" cy="121.7" r="1.0"/>
<circle cx="99.4" cy="274.5" r="1.0"/>
<circle cx="128.0" cy="263.7" r="1.0"/>
<circle cx="202.0" cy="190.8" r="1.0"/>
<circle cx="178.2" cy="209.8" r="1.0"/>
<circle cx="98.8" cy="285.9" r="1.0"/>
<circle cx="144.6" cy="241.1" r="1.0"/>
<circle cx="169.0" cy="219.5" r="1.0"/>
<circle cx="180.3" cy="210.1" r="1.0"/>
<circle cx="140.8" cy="241.2" r="1.0"/>
<circle cx="105.4" cy="278.9" r="1.0"/>
<circle cx="245.4" cy="120.7" r="1.0"/>
<circle cx="146.1" cy="242.1" r="1.0"/>
<circle cx="187.6" cy="189.1" r="1.0"/>
<circle cx="146.7" cy="244.1" r="1.0"/>
<circle cx="90.2" cy="298.5" r="1.0"/>
<circle cx="117.7" cy="278.3" r="1.0"/>
<circle cx="87.4" cy="305.7" r="1.0"/>
<circle cx="111.2" cy="278.5" r="1.0"/>
<circle cx="116.7" cy="273.6" r="1.0"/>
<circle cx="141.0" cy="246.5" r="1.0"/>
<circle cx="129.6" cy="258.9" r="1.0"/>
<circle cx="124.9" cy="260.2" r="1.0"/>
<circle cx="191.8" cy="195.9" r="1.0"/>
<circle cx="73.0" cy="314.3" r="1.0"/>
<circle cx="95.5" cy="273.6" r="1.0"/>
<circle cx="201.6" cy="184.4" r="1.0"/>
<circle cx="148.5" cy="238.1" r="1.0"/>
<circle cx="144.8" cy="242.4" r="1.0"/>
<circle cx="115.5" cy="271.4" r="1.0"/>
<circle cx="152.6" cy="227.3" r="1.0"/>
<circle cx="120.5" cy="269.0" r="1.0"/>
<circle cx="204.8" cy="174.6" r="1.0"/>
<circle cx="202.5" cy="179.0" r="1.0"/>
<circle cx="134.6" cy="237.9" r="1.0"/>
<circle cx="89.4" cy="299.1" r="1.0"/>
<circle cx="214.5" cy="184.0" r="1.0"/>
<circle cx="119.7" cy="270.0" r="1.0"/>
<circle cx="176.7" cy="209.5" r="1.0"/>
<circle cx="213.1" cy="171.0" r="1.0"/>
<circle cx="194.1" cy="193.7" r="1.0"/>
<circle cx="204.5" cy="183.7" r="1.0"/>
<circle cx="155.6" cy="222.5" r="1.0"/>
<circle cx="206.1" cy="185.7" r="1.0"/>
<circle cx="135.9" cy="245.1" r="1.0"/>
<circle cx="113.5" cy="268.5" r="1.0"/>
<circle cx="142.4" cy="248.7" r="1.0"/>
<circle cx="129.9" cy="254.0" r="1.0"/>
<circle cx="188.9" cy="201.9" r="1.0"/>
<circle cx="212.3" cy="181.6" r="1.0"/>
<circle cx="101.1" cy="296.5" r="1.0"/>
<circle cx="111.7" cy="280.1" r="1.0"/>
<circle cx="133.8" cy="251.0" r="1.0"/>
<circle cx="145.7" cy="243.8" r="1.0"/>
<circle cx="245.8" cy="139.3" r="1.0"/>
<circle cx="230.1" cy="161.1" r="1.0"/>
<circle cx="239.9" cy="149.7" r="1.0"/>
<circle cx="190.8" cy="198.2" r="1.0"/>
<circle cx="173.9" cy="222.7" r="1.0"/>
<circle cx="118.0" cy="274.1" r="1.0"/>
<circle cx="131.7" cy="252.9" r="1.0"/>
<circle cx="63.6" cy="323.1" r="1.0"/>
<circle cx="211.0" cy="179.5" r="1.0"/>
<circle cx="119.5" cy="268.2" r="1.0"/>
<circle cx="95.5" cy="287.9" r="1.0"/>
<circle cx="132.5" cy="249.1" r="1.0"/>
<circle cx="128.3" cy="264.1" r="1.0"/>
<circle cx="183.4" cy="199.9" r="1.0"/>
<circle cx="66.1" cy="315.0" r="1.0"/>
<circle cx="122.0" cy="264.9" r="1.0"/>
<circle cx="222.6" cy="154.0" r="1.0"/>
<circle cx="205.0" cy="199.8" r="1.0"/>
<circle cx="158.3" cy="224.3" r="1.0"/>
<circle cx="156.9" cy="230.2" r="1.0"/>
<circle cx="123.1" cy="274.9" r="1.0"/>
<circle cx="206.2" cy="178.1" r="1.0"/>
<circle cx="187.6" cy="196.0" r="1.0"/>
<circle cx="146.7" cy="236.7" r="1.0"/>
<circle cx="105.6" cy="266.8" r="1.0"/>
<circle cx="120.4" cy="266.9" r="1.0"/>
<circle cx="127.9" cy="261.5" r="1.0"/>
<circle cx="132.9" cy="256.9" r="1.0"/>
<circle cx="88.8" cy="298.6" r="1.0"/>
<circle cx="136.7" cy="249.2" r="1.0"/>
<circle cx="142.9" cy="245.7" r="1.0"/>
<circle cx="116.7" cy="270.2" r="1.0"/>
<circle cx="125.8" cy="258.7" r="1.0"/>
<circle cx="127.7" cy="258.4" r="1.0"/>
<circle cx="129.2" cy="250.9" r="1.0"/>
<circle cx="167.9" cy="206.2" r="1.0"/>
<circle cx="155.1" cy="238.9" r="1.0"/>
<circle cx="101.2" cy="287.6" r="1.0"/>
<circle cx="192.4" cy="213.9" r="1.0"/>
<circle cx="157.7" cy="236.4" r="1.0"/>
<circle cx="141.4" cy="238.9" r="1.0"/>
<circle cx="187.4" cy="206.2" r="1.0"/>
<circle cx="184.5" cy="209.4" r="1.0"/>
<circle cx="212.5" cy="176.6" r="1.0"/>
<circle cx="198.1" cy="183.7" r="1.0"/>
<circle cx="175.8" cy="213.5" r="1.0"/>
<circle cx="183.3" cy="206.2" r="1.0"/>
<circle cx="109.9" cy="274.4" r="1.0"/>
<circle cx="182.9" cy="202.7" r="1.0"/>
<circle cx="114.0" cy="271.7" r="1.0"/>
<circle cx="119.2" cy="256.1" r="1.0"/>
<circle cx="110.5" cy="282.4" r="1.0"/>
<circle cx="138.4" cy="248.0" r="1.0"/>
<circle cx="70.5" cy="318.4" r="1.0"/>
<circle cx="170.8" cy="213.0" r="1.0"/>
<circle cx="187.3" cy="188.6" r="1.0"/>
<circle cx="200.5" cy="193.7" r="1.0"/>
<circle cx="102.5" cy="268.1" r="1.0"/>
<circle cx="163.9" cy="230.4" r="1.0"/>
<circle cx="209.2" cy="173.6" r="1.0"/>
<circle cx="79.7" cy="306.4" r="1.0"/>
<circle cx="107.1" cy="285.0" r="1.0"/>
<circle cx="115.5" cy="278.1" r="1.0"/>
<circle cx="137.4" cy="250.7" r="1.0"/>
<circle cx="112.3" cy="274.9" r="1.0"/>
<circle cx="147.5" cy="249.2" r="1.0"/>
<circle cx="127.7" cy="257.7" r="1.0"/>
<circle cx="176.1" cy="219.7" r="1.0"/>
<circle cx="151.0" cy="236.1" r="1.0"/>
<circle cx="169.3" cy="217.9" r="1.0"/>
<circle cx="122.3" cy="270.5" r="1.0"/>
<circle cx="183.2" cy="202.9" r="1.0"/>
<circle cx="185.1" cy="206.2" r="1.0"/>
<circle cx="190.8" cy="204.8" r="1.0"/>
<circle cx="100.8" cy="288.1" r="1.0"/>
<circle cx="236.2" cy="155.2" r="1.0"/>
<circle cx="151.1" cy="224.4" r="1.0"/>
<circle cx="120.9" cy="267.7" r="1.0"/>
<circle cx="144.7" cy="233.7" r="1.0"/>
<circle cx="148.7" cy="233.9" r="1.0"/>
<circle cx="157.4" cy="223.2" r="1.0"/>
<circle cx="113.6" cy="269.5" r="1.0"/>
<circle cx="119.9" cy="265.2" r="1.0"/>
<circle cx="126.5" cy="262.3" r="1.0"/>
<circle cx="194.2" cy="190.6" r="1.0"/>
<circle cx="136.7" cy="247.5" r="1.0"/>
<circle cx="89.1" cy="297.3" r="1.0"/>
<circle cx="136.6" cy="251.3" r="1.0"/>
<circle cx="122.8" cy="269.0" r="1.0"/>
<circle cx="69.0" cy="316.2" r="1.0"/>
<circle cx="252.2" cy="133.5" r="1.0"/>
<circle cx="114.8" cy="279.8" r="1.0"/>
<circle cx="157.6" cy="228.9" r="1.0"/>
<circle cx="124.8" cy="253.3" r="1.0"/>
<circle cx="88.2" cy="299.6" r="1.0"/>
<circle cx="217.9" cy="166.3" r="1.0"/>
<circle cx="236.6" cy="144.9" r="1.0"/>
<circle cx="109.6" cy="281.9" r="1.0"/>
<circle cx="138.1" cy="249.9" r="1.0"/>
<circle cx="129.6" cy="256.1" r="1.0"/>
<circle cx="102.9" cy="281.4" r="1.0"/>
<circle cx="173.7" cy="208.8" r="1.0"/>
<circle cx="192.1" cy="201.6" r="1.0"/>
<circle cx="188.2" cy="199.1" r="1.0"/>
<circle cx="175.8" cy="208.9" r="1.0"/>
<circle cx="70.2" cy="313.4" r="1.0"/>
<circle cx="112.6" cy="269.4" r="1.0"/>
<circle cx="157.1" cy="242.7" r="1.0"/>
<circle cx="181.9" cy="207.7" r="1.0"/>
<circle cx="127.5" cy="262.8" r="1.0"/>
<circle cx="135.4" cy="246.9" r="1.0"/>
<circle cx="207.5" cy="188.9" r="1.0"/>
<circle cx="83.0" cy="300.7" r="1.0"/>
<circle cx="118.5" cy="265.8" r="1.0"/>
<circle cx="116.1" cy="269.5" r="1.0"/>
<circle cx="262.6" cy="133.8" r="1.0"/>
<circle cx="121.4" cy="269.8" r="1.0"/>
<circle cx="81.6" cy="303.3" r="1.0"/>
<circle cx="138.9" cy="252.6" r="1.0"/>
<circle cx="174.7" cy="213.2" r="1.0"/>
<circle cx="104.2" cy="283.6" r="1.0"/>
<circle cx="211.4" cy="172.5" r="1.0"/>
<circle cx="102.1" cy="284.2" r="1.0"/>
<circle cx="184.1" cy="201.3" r="1.0"/>
<circle cx="105.9" cy="283.8" r="1.0"/>
<circle cx="206.1" cy="181.1" r="1.0"/>
<circle cx="122.0" cy="265.5" r="1.0"/>
<circle cx="184.5" cy="200.2" r="1.0"/>
<circle cx="207.9" cy="179.9" r="1.0"/>
<circle cx="117.8" cy="266.2" r="1.0"/>
<circle cx="99.2" cy="292.9" r="1.0"/>
<circle cx="160.3" cy="223.1" r="1.0"/>
<circle cx="155.8" cy="233.8" r="1.0"/>
<circle cx="145.9" cy="234.6" r="1.0"/>
<circle cx="194.8" cy="192.0" r="1.0"/>
<circle cx="137.0" cy="245.1" r="1.0"/>
<circle cx="155.4" cy="227.0" r="1.0"/>
<circle cx="150.0" cy="238.8" r="1.0"/>
<circle cx="137.7" cy="248.7" r="1.0"/>
<circle cx="136.0" cy="253.6" r="1.0"/>
<circle cx="108.1" cy="278.4" r="1.0"/>
<circle cx="123.1" cy="273.6" r="1.0"/>
<circle cx="122.4" cy="265.2" r="1.0"/>
<circle cx="119.1" cy="269.5" r="1.0"/>
<circle cx="196.8" cy="193.1" r="1.0"/>
<circle cx="100.8" cy="286.8" r="1.0"/>
<circle cx="119.9" cy="271.8" r="1.0"/>
<circle cx="157.3" cy="221.5" r="1.0"/>
<circle cx="131.6" cy="253.0" r="1.0"/>
<circle cx="120.3" cy="255.9" r="1.0"/>
<circle cx="131.7" cy="258.0" r="1.0"/>
<circle cx="147.9" cy="246.3" r="1.0"/>
<circle cx="172.0" cy="211.7" r="1.0"/>
<circle cx="249.2" cy="151.3" r="1.0"/>
<circle cx="213.7" cy="172.6" r="1.0"/>
<circle cx="146.4" cy="242.9" r="1.0"/>
<circle cx="142.0" cy="246.2" r="1.0"/>
<circle cx="136.9" cy="249.4" r="1.0"/>
<circle cx="113.9" cy="273.1" r="1.0"/>
<circle cx="242.2" cy="137.4" r="1.0"/>
<circle cx="94.2" cy="291.0" r="1.0"/>
<circle cx="114.7" cy="276.3" r="1.0"/>
<circle cx="170.1" cy="211.1" r="1.0"/>
<circle cx="165.1" cy="226.2" r="1.0"/>
<circle cx="121.4" cy="265.3" r="1.0"/>
<circle cx="226.5" cy="170.0" r="1.0"/>
<circle cx="138.6" cy="251.0" r="1.0"/>
<circle cx="161.2" cy="218.1" r="1.0"/>
<circle cx="95.9" cy="292.8" r="1.0"/>
<circle cx="221.3" cy="168.3" r="1.0"/>
<circle cx="94.4" cy="296.0" r="1.0"/>
<circle cx="133.6" cy="254.5" r="1.0"/>
<circle cx="218.9" cy="162.8" r="1.0"/>
<circle cx="229.2" cy="166.8" r="1.0"/>
<circle cx="223.2" cy="173.2" r="1.0"/>
<circle cx="201.3" cy="182.0" r="1.0"/>
<circle cx="122.4" cy="274.1" r="1.0"/>
<circle cx="80.4" cy="308.9" r="1.0"/>
<circle cx="137.3" cy="246.3" r="1.0"/>
<circle cx="83.7" cy="303.8" r="1.0"/>
<circle cx="248.1" cy="141.0" r="1.0"/>
<circle cx="62.8" cy="328.3" r="1.0"/>
<circle cx="130.8" cy="261.8" r="1.0"/>
<circle cx="116.1" cy="272.8" r="1.0"/>
<circle cx="78.3" cy="308.1" r="1.0"/>
<circle cx="148.5" cy="222.6" r="1.0"/>
<circle cx="96.1" cy="288.2" r="1.0"/>
<circle cx="222.1" cy="169.3" r="1.0"/>
<circle cx="178.3" cy="211.2" r="1.0"/>
<circle cx="133.0" cy="250.2" r="1.0"/>
<circle cx="207.5" cy="186.2" r="1.0"/>
<circle cx="194.9" cy="195.4" r="1.0"/>
<circle cx="134.9" cy="253.3" r="1.0"/>
<circle cx="209.4" cy="181.8" r="1.0"/>
<circle cx="229.0" cy="165.8" r="1.0"/>
<circle cx="159.4" cy="226.7" r="1.0"/>
<circle cx="132.9" cy="276.2" r="1.0"/>
<circle cx="224.1" cy="166.6" r="1.0"/>
<circle cx="232.3" cy="157.5" r="1.0"/>
<circle cx="128.1" cy="258.5" r="1.0"/>
<circle cx="97.3" cy="294.0" r="1.0"/>
<circle cx="214.2" cy="165.4" r="1.0"/>
<circle cx="175.7" cy="216.3" r="1.0"/>
<circle cx="121.4" cy="269.7" r="1.0"/>
<circle cx="156.4" cy="233.1" r="1.0"/>
<circle cx="132.4" cy="256.9" r="1.0"/>
<circle cx="220.0" cy="170.9" r="1.0"/>
<circle cx="125.8" cy="257.9" r="1.0"/>
<circle cx="109.0" cy="277.6" r="1.0"/>
<circle cx="87.9" cy="299.6" r="1.0"/>
<circle cx="134.7" cy="249.4" r="1.0"/>
<circle cx="261.5" cy="128.8" r="1.0"/>
<circle cx="113.7" cy="270.0" r="1.0"/>
<circle cx="142.3" cy="244.8" r="1.0"/>
<circle cx="246.5" cy="148.0" r="1.0"/>
<circle cx="56.6" cy="328.4" r="1.0"/>
<circle cx="119.4" cy="276.7" r="1.0"/>
<circle cx="194.8" cy="188.3" r="1.0"/>
<circle cx="101.1" cy="288.7" r="1.0"/>
<circle cx="229.9" cy="154.6" r="1.0"/>
<circle cx="204.1" cy="174.0" r="1.0"/>
<circle cx="110.0" cy="274.2" r="1.0"/>
<circle cx="161.2" cy="229.9" r="1.0"/>
<circle cx="151.2" cy="236.4" r="1.0"/>
<circle cx="170.6" cy="219.1" r="1.0"/>
<circle cx="127.5" cy="266.8" r="1.0"/>
<circle cx="125.3" cy="265.3" r="1.0"/>
<circle cx="115.4" cy="271.7" r="1.0"/>
<circle cx="119.0" cy="266.6" r="1.0"/>
<circle cx="104.5" cy="293.0" r="1.0"/>
<circle cx="222.0" cy="166.1" r="1.0"/>
<circle cx="224.7" cy="159.2" r="1.0"/>
<circle cx="130.3" cy="256.6" r="1.0"/>
<circle cx="169.4" cy="221.0" r="1.0"/>
<circle cx="157.3" cy="223.9" r="1.0"/>
<circle cx="114.7" cy="279.8" r="1.0"/>
<circle cx="127.7" cy="257.6" r="1.0"/>
<circle cx="243.1" cy="137.8" r="1.0"/>
<circle cx="130.8" cy="262.7" r="1.0"/>
<circle cx="150.3" cy="236.1" r="1.0"/>
<circle cx="230.8" cy="155.3" r="1.0"/>
<circle cx="119.6" cy="267.0" r="1.0"/>
<circle cx="197.0" cy="193.0" r="1.0"/>
<circle cx="93.0" cy="295.2" r="1.0"/>
<circle cx="185.1" cy="206.8" r="1.0"/>
<circle cx="196.2" cy="190.7" r="1.0"/>
<circle cx="206.4" cy="179.0" r="1.0"/>
<circle cx="255.3" cy="137.8" r="1.0"/>
<circle cx="186.3" cy="207.3" r="1.0"/>
<circle cx="253.1" cy="138.4" r="1.0"/>
<circle cx="120.5" cy="266.8" r="1.0"/>
<circle cx="155.7" cy="231.4" r="1.0"/>
<circle cx="119.8" cy="267.8" r="1.0"/>
<circle cx="93.6" cy="293.4" r="1.0"/>
<circle cx="145.7" cy="259.6" r="1.0"/>
<circle cx="181.6" cy="223.2" r="1.0"/>
<circle cx="200.9" cy="182.5" r="1.0"/>
<circle cx="71.9" cy="307.8" r="1.0"/>
<circle cx="230.3" cy="167.9" r="1.0"/>
<circle cx="122.0" cy="269.4" r="1.0"/>
<circle cx="119.9" cy="266.5" r="1.0"/>
<circle cx="214.2" cy="166.8" r="1.0"/>
<circle cx="224.4" cy="158.6" r="1.0"/>
<circle cx="181.8" cy="201.4" r="1.0"/>
<circle cx="129.5" cy="258.0" r="1.0"/>
<circle cx="143.8" cy="242.2" r="1.0"/>
<circle cx="204.1" cy="181.8" r="1.0"/>
<circle cx="129.9" cy="263.9" r="1.0"/>
<circle cx="203.0" cy="176.5" r="1.0"/>
<circle cx="194.5" cy="190.7" r="1.0"/>
<circle cx="136.4" cy="247.9" r="1.0"/>
<circle cx="217.7" cy="171.1" r="1.0"/>
<circle cx="33.0" cy="347.7" r="1.0"/>
<circle cx="304.0" cy="78.7" r="1.0"/>
<circle cx="268" cy="100" r="1.0"/>
<circle cx="275.5" cy="110" r="1.0"/>
<circle cx="293" cy="107.5" r="1.0"/>
<circle cx="300.5" cy="91.5" r="1.0"/>
<circle cx="284" cy="101.5" r="1.0"/>
<circle cx="253" cy="112.5" r="1.0"/>
<circle cx="260.5" cy="111" r="1.0"/>
<circle cx="270.5" cy="141.5" r="1.0"/>
<circle cx="273" cy="124" r="1.0"/>
</g>
<path d="M29.5,357.5 L326.2,59.8" stroke="#f00" stroke-width="1.45" stroke-linecap="butt" fill="none"/>
<g font-family="DejaVu Sans, Liberation Sans, sans-serif" fill="#1a1a1a" stroke="#1a1a1a" stroke-width="0.18">
<g font-size="8.2">
<text x="41.5" y="72.3"><tspan font-style="italic">R</tspan><tspan font-size="5.9" dy="-3.6" dx="0.9">2</tspan><tspan dy="3.6" dx="0.1">: 0.98</tspan></text>
<text x="41.5" y="84.1">MAE(meV/atom): 45.09</text>
<text x="41.5" y="96.2">EwT %: 8.45</text>
</g>
<g font-size="6.8" text-anchor="middle" stroke-width="0.25">
<text transform="translate(29.1,367.6) rotate(-45)" y="2.5">−10</text>
<text transform="translate(19.7,362.9) rotate(-45)" y="2.5">−10</text>
<text transform="translate(89.2,365.4) rotate(-45)" y="2.5">−5</text>
<text transform="translate(21.7,300.7) rotate(-45)" y="2.5">−5</text>
<text transform="translate(148.0,363.9) rotate(-45)" y="2.5">0</text>
<text transform="translate(23.7,239.1) rotate(-45)" y="2.5">0</text>
<text transform="translate(207.4,363.9) rotate(-45)" y="2.5">5</text>
<text transform="translate(23.7,179.7) rotate(-45)" y="2.5">5</text>
<text transform="translate(267.4,365.4) rotate(-45)" y="2.5">10</text>
<text transform="translate(21.7,122.5) rotate(-45)" y="2.5">10</text>
<text transform="translate(326.8,365.4) rotate(-45)" y="2.5">15</text>
<text transform="translate(21.7,63.1) rotate(-45)" y="2.5">15</text>
</g>
<g font-size="10.6" text-anchor="middle">
<text x="178.2" y="384.9">Target(eV)</text>
<text transform="translate(9.2,209) rotate(-90)">Predicted(eV)</text>
</g>
</g>
</svg>
</body></html>
